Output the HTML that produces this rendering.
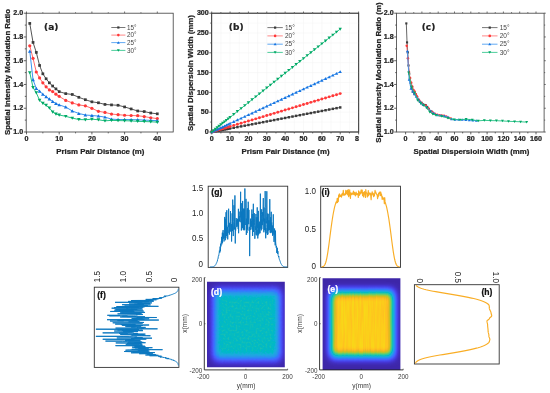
<!DOCTYPE html>
<html lang="en"><head><meta charset="utf-8"><title>Figure</title>
<style>
html,body{margin:0;padding:0;background:#fff;}
body{width:550px;height:393px;overflow:hidden;font-family:"Liberation Sans", Arial, Helvetica, sans-serif;}
svg{display:block;font-family:"Liberation Sans", Arial, Helvetica, sans-serif;}
</style></head><body>
<svg width="550" height="393" viewBox="0 0 550 393">
<rect width="550" height="393" fill="#fff"/>
<rect x="26.20" y="13.20" width="147.00" height="118.80" fill="#fff" stroke="#3c3c3c" stroke-width="0.8"/>
<line x1="26.50" y1="132.0" x2="26.50" y2="134.4" stroke="#3c3c3c" stroke-width="0.8"/>
<line x1="26.50" y1="13.2" x2="26.50" y2="11.5" stroke="#3c3c3c" stroke-width="0.7"/>
<text x="26.50" y="140.90" font-size="7.15" text-anchor="middle" fill="#222" font-weight="bold" stroke="#222" stroke-width="0.22">0</text>
<line x1="59.20" y1="132.0" x2="59.20" y2="134.4" stroke="#3c3c3c" stroke-width="0.8"/>
<line x1="59.20" y1="13.2" x2="59.20" y2="11.5" stroke="#3c3c3c" stroke-width="0.7"/>
<text x="59.20" y="140.90" font-size="7.15" text-anchor="middle" fill="#222" font-weight="bold" stroke="#222" stroke-width="0.22">10</text>
<line x1="91.90" y1="132.0" x2="91.90" y2="134.4" stroke="#3c3c3c" stroke-width="0.8"/>
<line x1="91.90" y1="13.2" x2="91.90" y2="11.5" stroke="#3c3c3c" stroke-width="0.7"/>
<text x="91.90" y="140.90" font-size="7.15" text-anchor="middle" fill="#222" font-weight="bold" stroke="#222" stroke-width="0.22">20</text>
<line x1="124.60" y1="132.0" x2="124.60" y2="134.4" stroke="#3c3c3c" stroke-width="0.8"/>
<line x1="124.60" y1="13.2" x2="124.60" y2="11.5" stroke="#3c3c3c" stroke-width="0.7"/>
<text x="124.60" y="140.90" font-size="7.15" text-anchor="middle" fill="#222" font-weight="bold" stroke="#222" stroke-width="0.22">30</text>
<line x1="157.30" y1="132.0" x2="157.30" y2="134.4" stroke="#3c3c3c" stroke-width="0.8"/>
<line x1="157.30" y1="13.2" x2="157.30" y2="11.5" stroke="#3c3c3c" stroke-width="0.7"/>
<text x="157.30" y="140.90" font-size="7.15" text-anchor="middle" fill="#222" font-weight="bold" stroke="#222" stroke-width="0.22">40</text>
<line x1="42.85" y1="132.0" x2="42.85" y2="133.4" stroke="#3c3c3c" stroke-width="0.7"/>
<line x1="42.85" y1="13.2" x2="42.85" y2="12.1" stroke="#3c3c3c" stroke-width="0.6"/>
<line x1="75.55" y1="132.0" x2="75.55" y2="133.4" stroke="#3c3c3c" stroke-width="0.7"/>
<line x1="75.55" y1="13.2" x2="75.55" y2="12.1" stroke="#3c3c3c" stroke-width="0.6"/>
<line x1="108.25" y1="132.0" x2="108.25" y2="133.4" stroke="#3c3c3c" stroke-width="0.7"/>
<line x1="108.25" y1="13.2" x2="108.25" y2="12.1" stroke="#3c3c3c" stroke-width="0.6"/>
<line x1="140.95" y1="132.0" x2="140.95" y2="133.4" stroke="#3c3c3c" stroke-width="0.7"/>
<line x1="140.95" y1="13.2" x2="140.95" y2="12.1" stroke="#3c3c3c" stroke-width="0.6"/>
<line x1="23.80" y1="132.00" x2="26.2" y2="132.00" stroke="#3c3c3c" stroke-width="0.8"/>
<text x="23.30" y="134.20" font-size="7.15" text-anchor="end" fill="#222" font-weight="bold" stroke="#222" stroke-width="0.22">1.0</text>
<line x1="24.80" y1="120.12" x2="26.2" y2="120.12" stroke="#3c3c3c" stroke-width="0.8"/>
<line x1="23.80" y1="108.24" x2="26.2" y2="108.24" stroke="#3c3c3c" stroke-width="0.8"/>
<text x="23.30" y="110.44" font-size="7.15" text-anchor="end" fill="#222" font-weight="bold" stroke="#222" stroke-width="0.22">1.2</text>
<line x1="24.80" y1="96.36" x2="26.2" y2="96.36" stroke="#3c3c3c" stroke-width="0.8"/>
<line x1="23.80" y1="84.48" x2="26.2" y2="84.48" stroke="#3c3c3c" stroke-width="0.8"/>
<text x="23.30" y="86.68" font-size="7.15" text-anchor="end" fill="#222" font-weight="bold" stroke="#222" stroke-width="0.22">1.4</text>
<line x1="24.80" y1="72.60" x2="26.2" y2="72.60" stroke="#3c3c3c" stroke-width="0.8"/>
<line x1="23.80" y1="60.72" x2="26.2" y2="60.72" stroke="#3c3c3c" stroke-width="0.8"/>
<text x="23.30" y="62.92" font-size="7.15" text-anchor="end" fill="#222" font-weight="bold" stroke="#222" stroke-width="0.22">1.6</text>
<line x1="24.80" y1="48.84" x2="26.2" y2="48.84" stroke="#3c3c3c" stroke-width="0.8"/>
<line x1="23.80" y1="36.96" x2="26.2" y2="36.96" stroke="#3c3c3c" stroke-width="0.8"/>
<text x="23.30" y="39.16" font-size="7.15" text-anchor="end" fill="#222" font-weight="bold" stroke="#222" stroke-width="0.22">1.8</text>
<line x1="24.80" y1="25.08" x2="26.2" y2="25.08" stroke="#3c3c3c" stroke-width="0.8"/>
<line x1="23.80" y1="13.20" x2="26.2" y2="13.20" stroke="#3c3c3c" stroke-width="0.8"/>
<text x="23.30" y="15.40" font-size="7.15" text-anchor="end" fill="#222" font-weight="bold" stroke="#222" stroke-width="0.22">2.0</text>
<polyline points="29.77,23.42 33.04,42.42 36.31,52.40 39.58,65.47 42.85,73.79 46.12,78.78 49.39,82.82 52.66,86.02 55.93,88.88 59.20,91.61 65.74,93.63 72.28,94.46 78.82,97.31 85.36,99.69 91.90,101.82 98.44,102.78 104.98,104.44 111.52,104.91 118.06,105.27 124.60,106.93 131.14,108.95 137.68,110.97 144.22,111.57 150.76,112.99 157.30,113.82" fill="none" stroke="#555555" stroke-width="1.0"/>
<rect x="28.41" y="22.06" width="2.72" height="2.72" fill="#3a3a3a"/>
<rect x="31.68" y="41.06" width="2.72" height="2.72" fill="#3a3a3a"/>
<rect x="34.95" y="51.04" width="2.72" height="2.72" fill="#3a3a3a"/>
<rect x="38.22" y="64.11" width="2.72" height="2.72" fill="#3a3a3a"/>
<rect x="41.49" y="72.43" width="2.72" height="2.72" fill="#3a3a3a"/>
<rect x="44.76" y="77.42" width="2.72" height="2.72" fill="#3a3a3a"/>
<rect x="48.03" y="81.46" width="2.72" height="2.72" fill="#3a3a3a"/>
<rect x="51.30" y="84.66" width="2.72" height="2.72" fill="#3a3a3a"/>
<rect x="54.57" y="87.52" width="2.72" height="2.72" fill="#3a3a3a"/>
<rect x="57.84" y="90.25" width="2.72" height="2.72" fill="#3a3a3a"/>
<rect x="64.38" y="92.27" width="2.72" height="2.72" fill="#3a3a3a"/>
<rect x="70.92" y="93.10" width="2.72" height="2.72" fill="#3a3a3a"/>
<rect x="77.46" y="95.95" width="2.72" height="2.72" fill="#3a3a3a"/>
<rect x="84.00" y="98.33" width="2.72" height="2.72" fill="#3a3a3a"/>
<rect x="90.54" y="100.46" width="2.72" height="2.72" fill="#3a3a3a"/>
<rect x="97.08" y="101.42" width="2.72" height="2.72" fill="#3a3a3a"/>
<rect x="103.62" y="103.08" width="2.72" height="2.72" fill="#3a3a3a"/>
<rect x="110.16" y="103.55" width="2.72" height="2.72" fill="#3a3a3a"/>
<rect x="116.70" y="103.91" width="2.72" height="2.72" fill="#3a3a3a"/>
<rect x="123.24" y="105.57" width="2.72" height="2.72" fill="#3a3a3a"/>
<rect x="129.78" y="107.59" width="2.72" height="2.72" fill="#3a3a3a"/>
<rect x="136.32" y="109.61" width="2.72" height="2.72" fill="#3a3a3a"/>
<rect x="142.86" y="110.21" width="2.72" height="2.72" fill="#3a3a3a"/>
<rect x="149.40" y="111.63" width="2.72" height="2.72" fill="#3a3a3a"/>
<rect x="155.94" y="112.46" width="2.72" height="2.72" fill="#3a3a3a"/>
<polyline points="29.77,45.87 33.04,58.34 36.31,72.01 39.58,77.95 42.85,82.82 46.12,86.86 49.39,89.94 52.66,91.61 55.93,94.22 59.20,96.36 65.74,100.40 72.28,102.89 78.82,104.91 85.36,105.86 91.90,108.36 98.44,111.33 104.98,112.40 111.52,114.06 118.06,114.66 124.60,115.25 131.14,115.49 137.68,115.72 144.22,116.56 150.76,117.74 157.30,118.58" fill="none" stroke="#ff6b6b" stroke-width="1.0"/>
<circle cx="29.77" cy="45.87" r="1.60" fill="#ff3838"/>
<circle cx="33.04" cy="58.34" r="1.60" fill="#ff3838"/>
<circle cx="36.31" cy="72.01" r="1.60" fill="#ff3838"/>
<circle cx="39.58" cy="77.95" r="1.60" fill="#ff3838"/>
<circle cx="42.85" cy="82.82" r="1.60" fill="#ff3838"/>
<circle cx="46.12" cy="86.86" r="1.60" fill="#ff3838"/>
<circle cx="49.39" cy="89.94" r="1.60" fill="#ff3838"/>
<circle cx="52.66" cy="91.61" r="1.60" fill="#ff3838"/>
<circle cx="55.93" cy="94.22" r="1.60" fill="#ff3838"/>
<circle cx="59.20" cy="96.36" r="1.60" fill="#ff3838"/>
<circle cx="65.74" cy="100.40" r="1.60" fill="#ff3838"/>
<circle cx="72.28" cy="102.89" r="1.60" fill="#ff3838"/>
<circle cx="78.82" cy="104.91" r="1.60" fill="#ff3838"/>
<circle cx="85.36" cy="105.86" r="1.60" fill="#ff3838"/>
<circle cx="91.90" cy="108.36" r="1.60" fill="#ff3838"/>
<circle cx="98.44" cy="111.33" r="1.60" fill="#ff3838"/>
<circle cx="104.98" cy="112.40" r="1.60" fill="#ff3838"/>
<circle cx="111.52" cy="114.06" r="1.60" fill="#ff3838"/>
<circle cx="118.06" cy="114.66" r="1.60" fill="#ff3838"/>
<circle cx="124.60" cy="115.25" r="1.60" fill="#ff3838"/>
<circle cx="131.14" cy="115.49" r="1.60" fill="#ff3838"/>
<circle cx="137.68" cy="115.72" r="1.60" fill="#ff3838"/>
<circle cx="144.22" cy="116.56" r="1.60" fill="#ff3838"/>
<circle cx="150.76" cy="117.74" r="1.60" fill="#ff3838"/>
<circle cx="157.30" cy="118.58" r="1.60" fill="#ff3838"/>
<polyline points="29.77,51.22 33.04,79.73 36.31,88.52 39.58,91.25 42.85,94.22 46.12,96.72 49.39,99.09 52.66,101.47 55.93,103.49 59.20,104.91 65.74,107.05 72.28,110.97 78.82,113.47 85.36,115.01 91.90,115.49 98.44,116.08 104.98,117.15 111.52,119.17 118.06,119.53 124.60,119.53 131.14,119.64 137.68,119.76 144.22,120.12 150.76,120.36 157.30,120.71" fill="none" stroke="#3a94f0" stroke-width="1.0"/>
<path d="M27.93 52.66L31.61 52.66L29.77 49.46Z" fill="#1673e0"/>
<path d="M31.20 81.17L34.88 81.17L33.04 77.97Z" fill="#1673e0"/>
<path d="M34.47 89.96L38.15 89.96L36.31 86.76Z" fill="#1673e0"/>
<path d="M37.74 92.69L41.42 92.69L39.58 89.49Z" fill="#1673e0"/>
<path d="M41.01 95.66L44.69 95.66L42.85 92.46Z" fill="#1673e0"/>
<path d="M44.28 98.16L47.96 98.16L46.12 94.96Z" fill="#1673e0"/>
<path d="M47.55 100.53L51.23 100.53L49.39 97.33Z" fill="#1673e0"/>
<path d="M50.82 102.91L54.50 102.91L52.66 99.71Z" fill="#1673e0"/>
<path d="M54.09 104.93L57.77 104.93L55.93 101.73Z" fill="#1673e0"/>
<path d="M57.36 106.35L61.04 106.35L59.20 103.15Z" fill="#1673e0"/>
<path d="M63.90 108.49L67.58 108.49L65.74 105.29Z" fill="#1673e0"/>
<path d="M70.44 112.41L74.12 112.41L72.28 109.21Z" fill="#1673e0"/>
<path d="M76.98 114.91L80.66 114.91L78.82 111.71Z" fill="#1673e0"/>
<path d="M83.52 116.45L87.20 116.45L85.36 113.25Z" fill="#1673e0"/>
<path d="M90.06 116.93L93.74 116.93L91.90 113.73Z" fill="#1673e0"/>
<path d="M96.60 117.52L100.28 117.52L98.44 114.32Z" fill="#1673e0"/>
<path d="M103.14 118.59L106.82 118.59L104.98 115.39Z" fill="#1673e0"/>
<path d="M109.68 120.61L113.36 120.61L111.52 117.41Z" fill="#1673e0"/>
<path d="M116.22 120.97L119.90 120.97L118.06 117.77Z" fill="#1673e0"/>
<path d="M122.76 120.97L126.44 120.97L124.60 117.77Z" fill="#1673e0"/>
<path d="M129.30 121.08L132.98 121.08L131.14 117.88Z" fill="#1673e0"/>
<path d="M135.84 121.20L139.52 121.20L137.68 118.00Z" fill="#1673e0"/>
<path d="M142.38 121.56L146.06 121.56L144.22 118.36Z" fill="#1673e0"/>
<path d="M148.92 121.80L152.60 121.80L150.76 118.60Z" fill="#1673e0"/>
<path d="M155.46 122.15L159.14 122.15L157.30 118.95Z" fill="#1673e0"/>
<polyline points="29.77,72.60 33.04,87.45 36.31,92.80 39.58,100.28 42.85,103.25 46.12,105.27 49.39,107.88 52.66,112.04 55.93,114.06 59.20,115.01 65.74,116.32 72.28,118.10 78.82,119.53 85.36,119.76 91.90,119.17 98.44,119.76 104.98,120.83 111.52,120.36 118.06,120.60 124.60,120.71 131.14,120.95 137.68,121.31 144.22,121.55 150.76,121.78 157.30,122.14" fill="none" stroke="#22c284" stroke-width="1.0"/>
<path d="M27.93 71.16L31.61 71.16L29.77 74.36Z" fill="#00a865"/>
<path d="M31.20 86.01L34.88 86.01L33.04 89.21Z" fill="#00a865"/>
<path d="M34.47 91.36L38.15 91.36L36.31 94.56Z" fill="#00a865"/>
<path d="M37.74 98.84L41.42 98.84L39.58 102.04Z" fill="#00a865"/>
<path d="M41.01 101.81L44.69 101.81L42.85 105.01Z" fill="#00a865"/>
<path d="M44.28 103.83L47.96 103.83L46.12 107.03Z" fill="#00a865"/>
<path d="M47.55 106.44L51.23 106.44L49.39 109.64Z" fill="#00a865"/>
<path d="M50.82 110.60L54.50 110.60L52.66 113.80Z" fill="#00a865"/>
<path d="M54.09 112.62L57.77 112.62L55.93 115.82Z" fill="#00a865"/>
<path d="M57.36 113.57L61.04 113.57L59.20 116.77Z" fill="#00a865"/>
<path d="M63.90 114.88L67.58 114.88L65.74 118.08Z" fill="#00a865"/>
<path d="M70.44 116.66L74.12 116.66L72.28 119.86Z" fill="#00a865"/>
<path d="M76.98 118.09L80.66 118.09L78.82 121.29Z" fill="#00a865"/>
<path d="M83.52 118.32L87.20 118.32L85.36 121.52Z" fill="#00a865"/>
<path d="M90.06 117.73L93.74 117.73L91.90 120.93Z" fill="#00a865"/>
<path d="M96.60 118.32L100.28 118.32L98.44 121.52Z" fill="#00a865"/>
<path d="M103.14 119.39L106.82 119.39L104.98 122.59Z" fill="#00a865"/>
<path d="M109.68 118.92L113.36 118.92L111.52 122.12Z" fill="#00a865"/>
<path d="M116.22 119.16L119.90 119.16L118.06 122.36Z" fill="#00a865"/>
<path d="M122.76 119.27L126.44 119.27L124.60 122.47Z" fill="#00a865"/>
<path d="M129.30 119.51L132.98 119.51L131.14 122.71Z" fill="#00a865"/>
<path d="M135.84 119.87L139.52 119.87L137.68 123.07Z" fill="#00a865"/>
<path d="M142.38 120.11L146.06 120.11L144.22 123.31Z" fill="#00a865"/>
<path d="M148.92 120.34L152.60 120.34L150.76 123.54Z" fill="#00a865"/>
<path d="M155.46 120.70L159.14 120.70L157.30 123.90Z" fill="#00a865"/>
<text x="51.20" y="29.90" font-size="9.0" text-anchor="middle" fill="#222" font-weight="bold" stroke="#222" stroke-width="0.22" letter-spacing="0.05" font-family="DejaVu Sans, Liberation Sans, sans-serif">(a)</text>
<line x1="111.3" y1="27.5" x2="125.4" y2="27.5" stroke="#555555" stroke-width="0.8"/>
<rect x="117.24" y="26.39" width="2.21" height="2.21" fill="#3a3a3a"/>
<text x="126.90" y="29.65" font-size="6.3" text-anchor="start" fill="#444">15°</text>
<line x1="111.3" y1="35.1" x2="125.4" y2="35.1" stroke="#ff6b6b" stroke-width="0.8"/>
<circle cx="118.35" cy="35.10" r="1.30" fill="#ff3838"/>
<text x="126.90" y="37.25" font-size="6.3" text-anchor="start" fill="#444">20°</text>
<line x1="111.3" y1="42.6" x2="125.4" y2="42.6" stroke="#3a94f0" stroke-width="0.8"/>
<path d="M116.85 43.77L119.84 43.77L118.35 41.17Z" fill="#1673e0"/>
<text x="126.90" y="44.75" font-size="6.3" text-anchor="start" fill="#444">25°</text>
<line x1="111.3" y1="50.4" x2="125.4" y2="50.4" stroke="#22c284" stroke-width="0.8"/>
<path d="M116.85 49.23L119.84 49.23L118.35 51.83Z" fill="#00a865"/>
<text x="126.90" y="52.55" font-size="6.3" text-anchor="start" fill="#444">30°</text>
<text x="100.30" y="153.90" font-size="7.85" text-anchor="middle" fill="#222" font-weight="bold" stroke="#222" stroke-width="0.22">Prism Pair Distance (m)</text>
<text x="10.30" y="72.00" font-size="7.85" text-anchor="middle" fill="#222" font-weight="bold" stroke="#222" stroke-width="0.22" transform="rotate(-90 10.30 72.00)">Spatial Intensity Modulation Ratio</text>
<rect x="211.70" y="13.20" width="147.00" height="118.80" fill="#fff" stroke="#3c3c3c" stroke-width="0.8"/>
<line x1="220.88" y1="13.2" x2="220.88" y2="132.0" stroke="#f3f3f3" stroke-width="0.5"/>
<line x1="230.06" y1="13.2" x2="230.06" y2="132.0" stroke="#f3f3f3" stroke-width="0.5"/>
<line x1="239.24" y1="13.2" x2="239.24" y2="132.0" stroke="#f3f3f3" stroke-width="0.5"/>
<line x1="248.42" y1="13.2" x2="248.42" y2="132.0" stroke="#f3f3f3" stroke-width="0.5"/>
<line x1="257.60" y1="13.2" x2="257.60" y2="132.0" stroke="#f3f3f3" stroke-width="0.5"/>
<line x1="266.78" y1="13.2" x2="266.78" y2="132.0" stroke="#f3f3f3" stroke-width="0.5"/>
<line x1="275.96" y1="13.2" x2="275.96" y2="132.0" stroke="#f3f3f3" stroke-width="0.5"/>
<line x1="285.14" y1="13.2" x2="285.14" y2="132.0" stroke="#f3f3f3" stroke-width="0.5"/>
<line x1="294.32" y1="13.2" x2="294.32" y2="132.0" stroke="#f3f3f3" stroke-width="0.5"/>
<line x1="303.50" y1="13.2" x2="303.50" y2="132.0" stroke="#f3f3f3" stroke-width="0.5"/>
<line x1="312.68" y1="13.2" x2="312.68" y2="132.0" stroke="#f3f3f3" stroke-width="0.5"/>
<line x1="321.86" y1="13.2" x2="321.86" y2="132.0" stroke="#f3f3f3" stroke-width="0.5"/>
<line x1="331.04" y1="13.2" x2="331.04" y2="132.0" stroke="#f3f3f3" stroke-width="0.5"/>
<line x1="340.22" y1="13.2" x2="340.22" y2="132.0" stroke="#f3f3f3" stroke-width="0.5"/>
<line x1="349.40" y1="13.2" x2="349.40" y2="132.0" stroke="#f3f3f3" stroke-width="0.5"/>
<line x1="211.7" y1="122.10" x2="358.7" y2="122.10" stroke="#f3f3f3" stroke-width="0.5"/>
<line x1="211.7" y1="112.20" x2="358.7" y2="112.20" stroke="#f3f3f3" stroke-width="0.5"/>
<line x1="211.7" y1="102.30" x2="358.7" y2="102.30" stroke="#f3f3f3" stroke-width="0.5"/>
<line x1="211.7" y1="92.40" x2="358.7" y2="92.40" stroke="#f3f3f3" stroke-width="0.5"/>
<line x1="211.7" y1="82.50" x2="358.7" y2="82.50" stroke="#f3f3f3" stroke-width="0.5"/>
<line x1="211.7" y1="72.60" x2="358.7" y2="72.60" stroke="#f3f3f3" stroke-width="0.5"/>
<line x1="211.7" y1="62.70" x2="358.7" y2="62.70" stroke="#f3f3f3" stroke-width="0.5"/>
<line x1="211.7" y1="52.80" x2="358.7" y2="52.80" stroke="#f3f3f3" stroke-width="0.5"/>
<line x1="211.7" y1="42.90" x2="358.7" y2="42.90" stroke="#f3f3f3" stroke-width="0.5"/>
<line x1="211.7" y1="33.00" x2="358.7" y2="33.00" stroke="#f3f3f3" stroke-width="0.5"/>
<line x1="211.7" y1="23.10" x2="358.7" y2="23.10" stroke="#f3f3f3" stroke-width="0.5"/>
<rect x="211.70" y="13.20" width="147.00" height="118.80" fill="none" stroke="#3c3c3c" stroke-width="0.8"/>
<line x1="211.70" y1="132.0" x2="211.70" y2="134.4" stroke="#3c3c3c" stroke-width="0.8"/>
<line x1="211.70" y1="13.2" x2="211.70" y2="11.5" stroke="#3c3c3c" stroke-width="0.7"/>
<text x="211.70" y="140.90" font-size="7.15" text-anchor="middle" fill="#222" font-weight="bold" stroke="#222" stroke-width="0.22">0</text>
<line x1="220.88" y1="132.0" x2="220.88" y2="133.4" stroke="#3c3c3c" stroke-width="0.8"/>
<line x1="220.88" y1="13.2" x2="220.88" y2="12.1" stroke="#3c3c3c" stroke-width="0.7"/>
<line x1="230.06" y1="132.0" x2="230.06" y2="134.4" stroke="#3c3c3c" stroke-width="0.8"/>
<line x1="230.06" y1="13.2" x2="230.06" y2="11.5" stroke="#3c3c3c" stroke-width="0.7"/>
<text x="230.06" y="140.90" font-size="7.15" text-anchor="middle" fill="#222" font-weight="bold" stroke="#222" stroke-width="0.22">10</text>
<line x1="239.24" y1="132.0" x2="239.24" y2="133.4" stroke="#3c3c3c" stroke-width="0.8"/>
<line x1="239.24" y1="13.2" x2="239.24" y2="12.1" stroke="#3c3c3c" stroke-width="0.7"/>
<line x1="248.42" y1="132.0" x2="248.42" y2="134.4" stroke="#3c3c3c" stroke-width="0.8"/>
<line x1="248.42" y1="13.2" x2="248.42" y2="11.5" stroke="#3c3c3c" stroke-width="0.7"/>
<text x="248.42" y="140.90" font-size="7.15" text-anchor="middle" fill="#222" font-weight="bold" stroke="#222" stroke-width="0.22">20</text>
<line x1="257.60" y1="132.0" x2="257.60" y2="133.4" stroke="#3c3c3c" stroke-width="0.8"/>
<line x1="257.60" y1="13.2" x2="257.60" y2="12.1" stroke="#3c3c3c" stroke-width="0.7"/>
<line x1="266.78" y1="132.0" x2="266.78" y2="134.4" stroke="#3c3c3c" stroke-width="0.8"/>
<line x1="266.78" y1="13.2" x2="266.78" y2="11.5" stroke="#3c3c3c" stroke-width="0.7"/>
<text x="266.78" y="140.90" font-size="7.15" text-anchor="middle" fill="#222" font-weight="bold" stroke="#222" stroke-width="0.22">30</text>
<line x1="275.96" y1="132.0" x2="275.96" y2="133.4" stroke="#3c3c3c" stroke-width="0.8"/>
<line x1="275.96" y1="13.2" x2="275.96" y2="12.1" stroke="#3c3c3c" stroke-width="0.7"/>
<line x1="285.14" y1="132.0" x2="285.14" y2="134.4" stroke="#3c3c3c" stroke-width="0.8"/>
<line x1="285.14" y1="13.2" x2="285.14" y2="11.5" stroke="#3c3c3c" stroke-width="0.7"/>
<text x="285.14" y="140.90" font-size="7.15" text-anchor="middle" fill="#222" font-weight="bold" stroke="#222" stroke-width="0.22">40</text>
<line x1="294.32" y1="132.0" x2="294.32" y2="133.4" stroke="#3c3c3c" stroke-width="0.8"/>
<line x1="294.32" y1="13.2" x2="294.32" y2="12.1" stroke="#3c3c3c" stroke-width="0.7"/>
<line x1="303.50" y1="132.0" x2="303.50" y2="134.4" stroke="#3c3c3c" stroke-width="0.8"/>
<line x1="303.50" y1="13.2" x2="303.50" y2="11.5" stroke="#3c3c3c" stroke-width="0.7"/>
<text x="303.50" y="140.90" font-size="7.15" text-anchor="middle" fill="#222" font-weight="bold" stroke="#222" stroke-width="0.22">50</text>
<line x1="312.68" y1="132.0" x2="312.68" y2="133.4" stroke="#3c3c3c" stroke-width="0.8"/>
<line x1="312.68" y1="13.2" x2="312.68" y2="12.1" stroke="#3c3c3c" stroke-width="0.7"/>
<line x1="321.86" y1="132.0" x2="321.86" y2="134.4" stroke="#3c3c3c" stroke-width="0.8"/>
<line x1="321.86" y1="13.2" x2="321.86" y2="11.5" stroke="#3c3c3c" stroke-width="0.7"/>
<text x="321.86" y="140.90" font-size="7.15" text-anchor="middle" fill="#222" font-weight="bold" stroke="#222" stroke-width="0.22">60</text>
<line x1="331.04" y1="132.0" x2="331.04" y2="133.4" stroke="#3c3c3c" stroke-width="0.8"/>
<line x1="331.04" y1="13.2" x2="331.04" y2="12.1" stroke="#3c3c3c" stroke-width="0.7"/>
<line x1="340.22" y1="132.0" x2="340.22" y2="134.4" stroke="#3c3c3c" stroke-width="0.8"/>
<line x1="340.22" y1="13.2" x2="340.22" y2="11.5" stroke="#3c3c3c" stroke-width="0.7"/>
<text x="340.22" y="140.90" font-size="7.15" text-anchor="middle" fill="#222" font-weight="bold" stroke="#222" stroke-width="0.22">70</text>
<line x1="349.40" y1="132.0" x2="349.40" y2="133.4" stroke="#3c3c3c" stroke-width="0.8"/>
<line x1="349.40" y1="13.2" x2="349.40" y2="12.1" stroke="#3c3c3c" stroke-width="0.7"/>
<line x1="358.58" y1="132.0" x2="358.58" y2="134.4" stroke="#3c3c3c" stroke-width="0.8"/>
<line x1="358.58" y1="13.2" x2="358.58" y2="11.5" stroke="#3c3c3c" stroke-width="0.7"/>
<text x="356.98" y="140.90" font-size="7.15" text-anchor="middle" fill="#222" font-weight="bold" stroke="#222" stroke-width="0.22">8</text>
<line x1="209.30" y1="132.00" x2="211.7" y2="132.00" stroke="#3c3c3c" stroke-width="0.8"/>
<text x="208.80" y="134.20" font-size="7.15" text-anchor="end" fill="#222" font-weight="bold" stroke="#222" stroke-width="0.22">0</text>
<line x1="210.30" y1="122.10" x2="211.7" y2="122.10" stroke="#3c3c3c" stroke-width="0.8"/>
<line x1="209.30" y1="112.20" x2="211.7" y2="112.20" stroke="#3c3c3c" stroke-width="0.8"/>
<text x="208.80" y="114.40" font-size="7.15" text-anchor="end" fill="#222" font-weight="bold" stroke="#222" stroke-width="0.22">50</text>
<line x1="210.30" y1="102.30" x2="211.7" y2="102.30" stroke="#3c3c3c" stroke-width="0.8"/>
<line x1="209.30" y1="92.40" x2="211.7" y2="92.40" stroke="#3c3c3c" stroke-width="0.8"/>
<text x="208.80" y="94.60" font-size="7.15" text-anchor="end" fill="#222" font-weight="bold" stroke="#222" stroke-width="0.22">100</text>
<line x1="210.30" y1="82.50" x2="211.7" y2="82.50" stroke="#3c3c3c" stroke-width="0.8"/>
<line x1="209.30" y1="72.60" x2="211.7" y2="72.60" stroke="#3c3c3c" stroke-width="0.8"/>
<text x="208.80" y="74.80" font-size="7.15" text-anchor="end" fill="#222" font-weight="bold" stroke="#222" stroke-width="0.22">150</text>
<line x1="210.30" y1="62.70" x2="211.7" y2="62.70" stroke="#3c3c3c" stroke-width="0.8"/>
<line x1="209.30" y1="52.80" x2="211.7" y2="52.80" stroke="#3c3c3c" stroke-width="0.8"/>
<text x="208.80" y="55.00" font-size="7.15" text-anchor="end" fill="#222" font-weight="bold" stroke="#222" stroke-width="0.22">200</text>
<line x1="210.30" y1="42.90" x2="211.7" y2="42.90" stroke="#3c3c3c" stroke-width="0.8"/>
<line x1="209.30" y1="33.00" x2="211.7" y2="33.00" stroke="#3c3c3c" stroke-width="0.8"/>
<text x="208.80" y="35.20" font-size="7.15" text-anchor="end" fill="#222" font-weight="bold" stroke="#222" stroke-width="0.22">250</text>
<line x1="210.30" y1="23.10" x2="211.7" y2="23.10" stroke="#3c3c3c" stroke-width="0.8"/>
<line x1="209.30" y1="13.20" x2="211.7" y2="13.20" stroke="#3c3c3c" stroke-width="0.8"/>
<text x="208.80" y="15.40" font-size="7.15" text-anchor="end" fill="#222" font-weight="bold" stroke="#222" stroke-width="0.22">300</text>
<polyline points="211.70,132.00 213.54,131.65 215.37,131.30 217.21,130.95 219.04,130.60 220.88,130.25 222.72,129.89 224.55,129.54 226.39,129.19 228.22,128.84 230.06,128.49 233.73,127.79 237.40,127.09 241.08,126.39 244.75,125.68 248.42,124.98 252.09,124.28 255.76,123.58 259.44,122.88 263.11,122.18 266.78,121.47 270.45,120.77 274.12,120.07 277.80,119.37 281.47,118.67 285.14,117.97 288.81,117.26 292.48,116.56 296.16,115.86 299.83,115.16 303.50,114.46 307.17,113.76 310.84,113.05 314.52,112.35 318.19,111.65 321.86,110.95 325.53,110.25 329.20,109.55 332.88,108.84 336.55,108.14 340.22,107.44" fill="none" stroke="#555555" stroke-width="0.9"/>
<rect x="210.47" y="130.77" width="2.46" height="2.46" fill="#3a3a3a"/>
<rect x="212.30" y="130.42" width="2.46" height="2.46" fill="#3a3a3a"/>
<rect x="214.14" y="130.07" width="2.46" height="2.46" fill="#3a3a3a"/>
<rect x="215.98" y="129.71" width="2.46" height="2.46" fill="#3a3a3a"/>
<rect x="217.81" y="129.36" width="2.46" height="2.46" fill="#3a3a3a"/>
<rect x="219.65" y="129.01" width="2.46" height="2.46" fill="#3a3a3a"/>
<rect x="221.48" y="128.66" width="2.46" height="2.46" fill="#3a3a3a"/>
<rect x="223.32" y="128.31" width="2.46" height="2.46" fill="#3a3a3a"/>
<rect x="225.16" y="127.96" width="2.46" height="2.46" fill="#3a3a3a"/>
<rect x="226.99" y="127.61" width="2.46" height="2.46" fill="#3a3a3a"/>
<rect x="228.83" y="127.26" width="2.46" height="2.46" fill="#3a3a3a"/>
<rect x="232.50" y="126.56" width="2.46" height="2.46" fill="#3a3a3a"/>
<rect x="236.17" y="125.86" width="2.46" height="2.46" fill="#3a3a3a"/>
<rect x="239.84" y="125.15" width="2.46" height="2.46" fill="#3a3a3a"/>
<rect x="243.52" y="124.45" width="2.46" height="2.46" fill="#3a3a3a"/>
<rect x="247.19" y="123.75" width="2.46" height="2.46" fill="#3a3a3a"/>
<rect x="250.86" y="123.05" width="2.46" height="2.46" fill="#3a3a3a"/>
<rect x="254.53" y="122.35" width="2.46" height="2.46" fill="#3a3a3a"/>
<rect x="258.20" y="121.65" width="2.46" height="2.46" fill="#3a3a3a"/>
<rect x="261.88" y="120.94" width="2.46" height="2.46" fill="#3a3a3a"/>
<rect x="265.55" y="120.24" width="2.46" height="2.46" fill="#3a3a3a"/>
<rect x="269.22" y="119.54" width="2.46" height="2.46" fill="#3a3a3a"/>
<rect x="272.89" y="118.84" width="2.46" height="2.46" fill="#3a3a3a"/>
<rect x="276.56" y="118.14" width="2.46" height="2.46" fill="#3a3a3a"/>
<rect x="280.24" y="117.43" width="2.46" height="2.46" fill="#3a3a3a"/>
<rect x="283.91" y="116.73" width="2.46" height="2.46" fill="#3a3a3a"/>
<rect x="287.58" y="116.03" width="2.46" height="2.46" fill="#3a3a3a"/>
<rect x="291.25" y="115.33" width="2.46" height="2.46" fill="#3a3a3a"/>
<rect x="294.92" y="114.63" width="2.46" height="2.46" fill="#3a3a3a"/>
<rect x="298.60" y="113.93" width="2.46" height="2.46" fill="#3a3a3a"/>
<rect x="302.27" y="113.22" width="2.46" height="2.46" fill="#3a3a3a"/>
<rect x="305.94" y="112.52" width="2.46" height="2.46" fill="#3a3a3a"/>
<rect x="309.61" y="111.82" width="2.46" height="2.46" fill="#3a3a3a"/>
<rect x="313.28" y="111.12" width="2.46" height="2.46" fill="#3a3a3a"/>
<rect x="316.96" y="110.42" width="2.46" height="2.46" fill="#3a3a3a"/>
<rect x="320.63" y="109.72" width="2.46" height="2.46" fill="#3a3a3a"/>
<rect x="324.30" y="109.01" width="2.46" height="2.46" fill="#3a3a3a"/>
<rect x="327.97" y="108.31" width="2.46" height="2.46" fill="#3a3a3a"/>
<rect x="331.64" y="107.61" width="2.46" height="2.46" fill="#3a3a3a"/>
<rect x="335.32" y="106.91" width="2.46" height="2.46" fill="#3a3a3a"/>
<rect x="338.99" y="106.21" width="2.46" height="2.46" fill="#3a3a3a"/>
<polyline points="211.70,132.00 213.54,131.45 215.37,130.90 217.21,130.35 219.04,129.80 220.88,129.26 222.72,128.71 224.55,128.16 226.39,127.61 228.22,127.06 230.06,126.51 233.73,125.41 237.40,124.32 241.08,123.22 244.75,122.12 248.42,121.02 252.09,119.93 255.76,118.83 259.44,117.73 263.11,116.63 266.78,115.53 270.45,114.44 274.12,113.34 277.80,112.24 281.47,111.14 285.14,110.05 288.81,108.95 292.48,107.85 296.16,106.75 299.83,105.65 303.50,104.56 307.17,103.46 310.84,102.36 314.52,101.26 318.19,100.17 321.86,99.07 325.53,97.97 329.20,96.87 332.88,95.78 336.55,94.68 340.22,93.58" fill="none" stroke="#ff6b6b" stroke-width="0.9"/>
<circle cx="211.70" cy="132.00" r="1.45" fill="#ff3838"/>
<circle cx="213.54" cy="131.45" r="1.45" fill="#ff3838"/>
<circle cx="215.37" cy="130.90" r="1.45" fill="#ff3838"/>
<circle cx="217.21" cy="130.35" r="1.45" fill="#ff3838"/>
<circle cx="219.04" cy="129.80" r="1.45" fill="#ff3838"/>
<circle cx="220.88" cy="129.26" r="1.45" fill="#ff3838"/>
<circle cx="222.72" cy="128.71" r="1.45" fill="#ff3838"/>
<circle cx="224.55" cy="128.16" r="1.45" fill="#ff3838"/>
<circle cx="226.39" cy="127.61" r="1.45" fill="#ff3838"/>
<circle cx="228.22" cy="127.06" r="1.45" fill="#ff3838"/>
<circle cx="230.06" cy="126.51" r="1.45" fill="#ff3838"/>
<circle cx="233.73" cy="125.41" r="1.45" fill="#ff3838"/>
<circle cx="237.40" cy="124.32" r="1.45" fill="#ff3838"/>
<circle cx="241.08" cy="123.22" r="1.45" fill="#ff3838"/>
<circle cx="244.75" cy="122.12" r="1.45" fill="#ff3838"/>
<circle cx="248.42" cy="121.02" r="1.45" fill="#ff3838"/>
<circle cx="252.09" cy="119.93" r="1.45" fill="#ff3838"/>
<circle cx="255.76" cy="118.83" r="1.45" fill="#ff3838"/>
<circle cx="259.44" cy="117.73" r="1.45" fill="#ff3838"/>
<circle cx="263.11" cy="116.63" r="1.45" fill="#ff3838"/>
<circle cx="266.78" cy="115.53" r="1.45" fill="#ff3838"/>
<circle cx="270.45" cy="114.44" r="1.45" fill="#ff3838"/>
<circle cx="274.12" cy="113.34" r="1.45" fill="#ff3838"/>
<circle cx="277.80" cy="112.24" r="1.45" fill="#ff3838"/>
<circle cx="281.47" cy="111.14" r="1.45" fill="#ff3838"/>
<circle cx="285.14" cy="110.05" r="1.45" fill="#ff3838"/>
<circle cx="288.81" cy="108.95" r="1.45" fill="#ff3838"/>
<circle cx="292.48" cy="107.85" r="1.45" fill="#ff3838"/>
<circle cx="296.16" cy="106.75" r="1.45" fill="#ff3838"/>
<circle cx="299.83" cy="105.65" r="1.45" fill="#ff3838"/>
<circle cx="303.50" cy="104.56" r="1.45" fill="#ff3838"/>
<circle cx="307.17" cy="103.46" r="1.45" fill="#ff3838"/>
<circle cx="310.84" cy="102.36" r="1.45" fill="#ff3838"/>
<circle cx="314.52" cy="101.26" r="1.45" fill="#ff3838"/>
<circle cx="318.19" cy="100.17" r="1.45" fill="#ff3838"/>
<circle cx="321.86" cy="99.07" r="1.45" fill="#ff3838"/>
<circle cx="325.53" cy="97.97" r="1.45" fill="#ff3838"/>
<circle cx="329.20" cy="96.87" r="1.45" fill="#ff3838"/>
<circle cx="332.88" cy="95.78" r="1.45" fill="#ff3838"/>
<circle cx="336.55" cy="94.68" r="1.45" fill="#ff3838"/>
<circle cx="340.22" cy="93.58" r="1.45" fill="#ff3838"/>
<polyline points="211.70,132.00 213.54,131.14 215.37,130.28 217.21,129.42 219.04,128.56 220.88,127.70 222.72,126.84 224.55,125.98 226.39,125.12 228.22,124.26 230.06,123.40 233.73,121.68 237.40,119.96 241.08,118.24 244.75,116.53 248.42,114.81 252.09,113.09 255.76,111.37 259.44,109.65 263.11,107.93 266.78,106.21 270.45,104.49 274.12,102.77 277.80,101.05 281.47,99.33 285.14,97.61 288.81,95.89 292.48,94.17 296.16,92.45 299.83,90.73 303.50,89.01 307.17,87.29 310.84,85.58 314.52,83.86 318.19,82.14 321.86,80.42 325.53,78.70 329.20,76.98 332.88,75.26 336.55,73.54 340.22,71.82" fill="none" stroke="#3a94f0" stroke-width="0.9"/>
<path d="M210.03 133.31L213.37 133.31L211.70 130.41Z" fill="#1673e0"/>
<path d="M211.87 132.45L215.20 132.45L213.54 129.55Z" fill="#1673e0"/>
<path d="M213.70 131.59L217.04 131.59L215.37 128.69Z" fill="#1673e0"/>
<path d="M215.54 130.73L218.88 130.73L217.21 127.83Z" fill="#1673e0"/>
<path d="M217.38 129.87L220.71 129.87L219.04 126.97Z" fill="#1673e0"/>
<path d="M219.21 129.01L222.55 129.01L220.88 126.11Z" fill="#1673e0"/>
<path d="M221.05 128.15L224.38 128.15L222.72 125.25Z" fill="#1673e0"/>
<path d="M222.88 127.29L226.22 127.29L224.55 124.39Z" fill="#1673e0"/>
<path d="M224.72 126.43L228.06 126.43L226.39 123.53Z" fill="#1673e0"/>
<path d="M226.56 125.57L229.89 125.57L228.22 122.67Z" fill="#1673e0"/>
<path d="M228.39 124.71L231.73 124.71L230.06 121.81Z" fill="#1673e0"/>
<path d="M232.06 122.99L235.40 122.99L233.73 120.09Z" fill="#1673e0"/>
<path d="M235.74 121.27L239.07 121.27L237.40 118.37Z" fill="#1673e0"/>
<path d="M239.41 119.55L242.74 119.55L241.08 116.65Z" fill="#1673e0"/>
<path d="M243.08 117.83L246.42 117.83L244.75 114.93Z" fill="#1673e0"/>
<path d="M246.75 116.11L250.09 116.11L248.42 113.21Z" fill="#1673e0"/>
<path d="M250.42 114.39L253.76 114.39L252.09 111.49Z" fill="#1673e0"/>
<path d="M254.10 112.67L257.43 112.67L255.76 109.77Z" fill="#1673e0"/>
<path d="M257.77 110.95L261.10 110.95L259.44 108.05Z" fill="#1673e0"/>
<path d="M261.44 109.23L264.78 109.23L263.11 106.33Z" fill="#1673e0"/>
<path d="M265.11 107.51L268.45 107.51L266.78 104.61Z" fill="#1673e0"/>
<path d="M268.78 105.79L272.12 105.79L270.45 102.89Z" fill="#1673e0"/>
<path d="M272.46 104.07L275.79 104.07L274.12 101.17Z" fill="#1673e0"/>
<path d="M276.13 102.36L279.46 102.36L277.80 99.46Z" fill="#1673e0"/>
<path d="M279.80 100.64L283.14 100.64L281.47 97.74Z" fill="#1673e0"/>
<path d="M283.47 98.92L286.81 98.92L285.14 96.02Z" fill="#1673e0"/>
<path d="M287.14 97.20L290.48 97.20L288.81 94.30Z" fill="#1673e0"/>
<path d="M290.82 95.48L294.15 95.48L292.48 92.58Z" fill="#1673e0"/>
<path d="M294.49 93.76L297.82 93.76L296.16 90.86Z" fill="#1673e0"/>
<path d="M298.16 92.04L301.50 92.04L299.83 89.14Z" fill="#1673e0"/>
<path d="M301.83 90.32L305.17 90.32L303.50 87.42Z" fill="#1673e0"/>
<path d="M305.50 88.60L308.84 88.60L307.17 85.70Z" fill="#1673e0"/>
<path d="M309.18 86.88L312.51 86.88L310.84 83.98Z" fill="#1673e0"/>
<path d="M312.85 85.16L316.18 85.16L314.52 82.26Z" fill="#1673e0"/>
<path d="M316.52 83.44L319.86 83.44L318.19 80.54Z" fill="#1673e0"/>
<path d="M320.19 81.72L323.53 81.72L321.86 78.82Z" fill="#1673e0"/>
<path d="M323.86 80.00L327.20 80.00L325.53 77.10Z" fill="#1673e0"/>
<path d="M327.54 78.28L330.87 78.28L329.20 75.38Z" fill="#1673e0"/>
<path d="M331.21 76.56L334.54 76.56L332.88 73.66Z" fill="#1673e0"/>
<path d="M334.88 74.84L338.22 74.84L336.55 71.94Z" fill="#1673e0"/>
<path d="M338.55 73.12L341.89 73.12L340.22 70.22Z" fill="#1673e0"/>
<polyline points="211.70,132.00 213.54,130.53 215.37,129.06 217.21,127.59 219.04,126.12 220.88,124.65 222.72,123.18 224.55,121.70 226.39,120.23 228.22,118.76 230.06,117.29 233.73,114.35 237.40,111.41 241.08,108.47 244.75,105.53 248.42,102.59 252.09,99.64 255.76,96.70 259.44,93.76 263.11,90.82 266.78,87.88 270.45,84.94 274.12,81.99 277.80,79.05 281.47,76.11 285.14,73.17 288.81,70.23 292.48,67.29 296.16,64.35 299.83,61.40 303.50,58.46 307.17,55.52 310.84,52.58 314.52,49.64 318.19,46.70 321.86,43.76 325.53,40.81 329.20,37.87 332.88,34.93 336.55,31.99 340.22,29.05" fill="none" stroke="#22c284" stroke-width="0.9"/>
<path d="M210.03 130.69L213.37 130.69L211.70 133.59Z" fill="#00a865"/>
<path d="M211.87 129.22L215.20 129.22L213.54 132.12Z" fill="#00a865"/>
<path d="M213.70 127.75L217.04 127.75L215.37 130.65Z" fill="#00a865"/>
<path d="M215.54 126.28L218.88 126.28L217.21 129.18Z" fill="#00a865"/>
<path d="M217.38 124.81L220.71 124.81L219.04 127.71Z" fill="#00a865"/>
<path d="M219.21 123.34L222.55 123.34L220.88 126.24Z" fill="#00a865"/>
<path d="M221.05 121.87L224.38 121.87L222.72 124.77Z" fill="#00a865"/>
<path d="M222.88 120.40L226.22 120.40L224.55 123.30Z" fill="#00a865"/>
<path d="M224.72 118.93L228.06 118.93L226.39 121.83Z" fill="#00a865"/>
<path d="M226.56 117.46L229.89 117.46L228.22 120.36Z" fill="#00a865"/>
<path d="M228.39 115.99L231.73 115.99L230.06 118.89Z" fill="#00a865"/>
<path d="M232.06 113.05L235.40 113.05L233.73 115.95Z" fill="#00a865"/>
<path d="M235.74 110.10L239.07 110.10L237.40 113.00Z" fill="#00a865"/>
<path d="M239.41 107.16L242.74 107.16L241.08 110.06Z" fill="#00a865"/>
<path d="M243.08 104.22L246.42 104.22L244.75 107.12Z" fill="#00a865"/>
<path d="M246.75 101.28L250.09 101.28L248.42 104.18Z" fill="#00a865"/>
<path d="M250.42 98.34L253.76 98.34L252.09 101.24Z" fill="#00a865"/>
<path d="M254.10 95.40L257.43 95.40L255.76 98.30Z" fill="#00a865"/>
<path d="M257.77 92.46L261.10 92.46L259.44 95.36Z" fill="#00a865"/>
<path d="M261.44 89.51L264.78 89.51L263.11 92.41Z" fill="#00a865"/>
<path d="M265.11 86.57L268.45 86.57L266.78 89.47Z" fill="#00a865"/>
<path d="M268.78 83.63L272.12 83.63L270.45 86.53Z" fill="#00a865"/>
<path d="M272.46 80.69L275.79 80.69L274.12 83.59Z" fill="#00a865"/>
<path d="M276.13 77.75L279.46 77.75L277.80 80.65Z" fill="#00a865"/>
<path d="M279.80 74.81L283.14 74.81L281.47 77.71Z" fill="#00a865"/>
<path d="M283.47 71.87L286.81 71.87L285.14 74.77Z" fill="#00a865"/>
<path d="M287.14 68.92L290.48 68.92L288.81 71.82Z" fill="#00a865"/>
<path d="M290.82 65.98L294.15 65.98L292.48 68.88Z" fill="#00a865"/>
<path d="M294.49 63.04L297.82 63.04L296.16 65.94Z" fill="#00a865"/>
<path d="M298.16 60.10L301.50 60.10L299.83 63.00Z" fill="#00a865"/>
<path d="M301.83 57.16L305.17 57.16L303.50 60.06Z" fill="#00a865"/>
<path d="M305.50 54.22L308.84 54.22L307.17 57.12Z" fill="#00a865"/>
<path d="M309.18 51.27L312.51 51.27L310.84 54.17Z" fill="#00a865"/>
<path d="M312.85 48.33L316.18 48.33L314.52 51.23Z" fill="#00a865"/>
<path d="M316.52 45.39L319.86 45.39L318.19 48.29Z" fill="#00a865"/>
<path d="M320.19 42.45L323.53 42.45L321.86 45.35Z" fill="#00a865"/>
<path d="M323.86 39.51L327.20 39.51L325.53 42.41Z" fill="#00a865"/>
<path d="M327.54 36.57L330.87 36.57L329.20 39.47Z" fill="#00a865"/>
<path d="M331.21 33.63L334.54 33.63L332.88 36.53Z" fill="#00a865"/>
<path d="M334.88 30.68L338.22 30.68L336.55 33.58Z" fill="#00a865"/>
<path d="M338.55 27.74L341.89 27.74L340.22 30.64Z" fill="#00a865"/>
<text x="236.20" y="29.90" font-size="9.0" text-anchor="middle" fill="#222" font-weight="bold" stroke="#222" stroke-width="0.22" letter-spacing="0.05" font-family="DejaVu Sans, Liberation Sans, sans-serif">(b)</text>
<line x1="267.4" y1="27.6" x2="282.8" y2="27.6" stroke="#555555" stroke-width="0.8"/>
<rect x="274.00" y="26.50" width="2.21" height="2.21" fill="#3a3a3a"/>
<text x="285.00" y="29.75" font-size="6.5" text-anchor="start" fill="#444">15°</text>
<line x1="267.4" y1="35.9" x2="282.8" y2="35.9" stroke="#ff6b6b" stroke-width="0.8"/>
<circle cx="275.10" cy="35.90" r="1.30" fill="#ff3838"/>
<text x="285.00" y="38.05" font-size="6.5" text-anchor="start" fill="#444">20°</text>
<line x1="267.4" y1="44.2" x2="282.8" y2="44.2" stroke="#3a94f0" stroke-width="0.8"/>
<path d="M273.61 45.37L276.60 45.37L275.10 42.77Z" fill="#1673e0"/>
<text x="285.00" y="46.35" font-size="6.5" text-anchor="start" fill="#444">25°</text>
<line x1="267.4" y1="52.4" x2="282.8" y2="52.4" stroke="#22c284" stroke-width="0.8"/>
<path d="M273.61 51.23L276.60 51.23L275.10 53.83Z" fill="#00a865"/>
<text x="285.00" y="54.55" font-size="6.5" text-anchor="start" fill="#444">30°</text>
<text x="285.50" y="153.90" font-size="7.85" text-anchor="middle" fill="#222" font-weight="bold" stroke="#222" stroke-width="0.22">Prism Pair Distance (m)</text>
<text x="192.50" y="73.00" font-size="7.85" text-anchor="middle" fill="#222" font-weight="bold" stroke="#222" stroke-width="0.22" transform="rotate(-90 192.50 73.00)">Spatial Dispersioin Width (mm)</text>
<rect x="396.60" y="13.20" width="147.50" height="118.80" fill="#fff" stroke="#3c3c3c" stroke-width="0.8"/>
<line x1="405.60" y1="132.0" x2="405.60" y2="134.4" stroke="#3c3c3c" stroke-width="0.8"/>
<line x1="405.60" y1="13.2" x2="405.60" y2="11.5" stroke="#3c3c3c" stroke-width="0.7"/>
<text x="405.60" y="140.90" font-size="7.15" text-anchor="middle" fill="#222" font-weight="bold" stroke="#222" stroke-width="0.22">0</text>
<line x1="413.75" y1="132.0" x2="413.75" y2="133.4" stroke="#3c3c3c" stroke-width="0.8"/>
<line x1="413.75" y1="13.2" x2="413.75" y2="12.1" stroke="#3c3c3c" stroke-width="0.7"/>
<line x1="421.90" y1="132.0" x2="421.90" y2="134.4" stroke="#3c3c3c" stroke-width="0.8"/>
<line x1="421.90" y1="13.2" x2="421.90" y2="11.5" stroke="#3c3c3c" stroke-width="0.7"/>
<text x="421.90" y="140.90" font-size="7.15" text-anchor="middle" fill="#222" font-weight="bold" stroke="#222" stroke-width="0.22">20</text>
<line x1="430.05" y1="132.0" x2="430.05" y2="133.4" stroke="#3c3c3c" stroke-width="0.8"/>
<line x1="430.05" y1="13.2" x2="430.05" y2="12.1" stroke="#3c3c3c" stroke-width="0.7"/>
<line x1="438.20" y1="132.0" x2="438.20" y2="134.4" stroke="#3c3c3c" stroke-width="0.8"/>
<line x1="438.20" y1="13.2" x2="438.20" y2="11.5" stroke="#3c3c3c" stroke-width="0.7"/>
<text x="438.20" y="140.90" font-size="7.15" text-anchor="middle" fill="#222" font-weight="bold" stroke="#222" stroke-width="0.22">40</text>
<line x1="446.35" y1="132.0" x2="446.35" y2="133.4" stroke="#3c3c3c" stroke-width="0.8"/>
<line x1="446.35" y1="13.2" x2="446.35" y2="12.1" stroke="#3c3c3c" stroke-width="0.7"/>
<line x1="454.50" y1="132.0" x2="454.50" y2="134.4" stroke="#3c3c3c" stroke-width="0.8"/>
<line x1="454.50" y1="13.2" x2="454.50" y2="11.5" stroke="#3c3c3c" stroke-width="0.7"/>
<text x="454.50" y="140.90" font-size="7.15" text-anchor="middle" fill="#222" font-weight="bold" stroke="#222" stroke-width="0.22">60</text>
<line x1="462.65" y1="132.0" x2="462.65" y2="133.4" stroke="#3c3c3c" stroke-width="0.8"/>
<line x1="462.65" y1="13.2" x2="462.65" y2="12.1" stroke="#3c3c3c" stroke-width="0.7"/>
<line x1="470.80" y1="132.0" x2="470.80" y2="134.4" stroke="#3c3c3c" stroke-width="0.8"/>
<line x1="470.80" y1="13.2" x2="470.80" y2="11.5" stroke="#3c3c3c" stroke-width="0.7"/>
<text x="470.80" y="140.90" font-size="7.15" text-anchor="middle" fill="#222" font-weight="bold" stroke="#222" stroke-width="0.22">80</text>
<line x1="478.95" y1="132.0" x2="478.95" y2="133.4" stroke="#3c3c3c" stroke-width="0.8"/>
<line x1="478.95" y1="13.2" x2="478.95" y2="12.1" stroke="#3c3c3c" stroke-width="0.7"/>
<line x1="487.10" y1="132.0" x2="487.10" y2="134.4" stroke="#3c3c3c" stroke-width="0.8"/>
<line x1="487.10" y1="13.2" x2="487.10" y2="11.5" stroke="#3c3c3c" stroke-width="0.7"/>
<text x="487.10" y="140.90" font-size="7.15" text-anchor="middle" fill="#222" font-weight="bold" stroke="#222" stroke-width="0.22">100</text>
<line x1="495.25" y1="132.0" x2="495.25" y2="133.4" stroke="#3c3c3c" stroke-width="0.8"/>
<line x1="495.25" y1="13.2" x2="495.25" y2="12.1" stroke="#3c3c3c" stroke-width="0.7"/>
<line x1="503.40" y1="132.0" x2="503.40" y2="134.4" stroke="#3c3c3c" stroke-width="0.8"/>
<line x1="503.40" y1="13.2" x2="503.40" y2="11.5" stroke="#3c3c3c" stroke-width="0.7"/>
<text x="503.40" y="140.90" font-size="7.15" text-anchor="middle" fill="#222" font-weight="bold" stroke="#222" stroke-width="0.22">120</text>
<line x1="511.55" y1="132.0" x2="511.55" y2="133.4" stroke="#3c3c3c" stroke-width="0.8"/>
<line x1="511.55" y1="13.2" x2="511.55" y2="12.1" stroke="#3c3c3c" stroke-width="0.7"/>
<line x1="519.70" y1="132.0" x2="519.70" y2="134.4" stroke="#3c3c3c" stroke-width="0.8"/>
<line x1="519.70" y1="13.2" x2="519.70" y2="11.5" stroke="#3c3c3c" stroke-width="0.7"/>
<text x="519.70" y="140.90" font-size="7.15" text-anchor="middle" fill="#222" font-weight="bold" stroke="#222" stroke-width="0.22">140</text>
<line x1="527.85" y1="132.0" x2="527.85" y2="133.4" stroke="#3c3c3c" stroke-width="0.8"/>
<line x1="527.85" y1="13.2" x2="527.85" y2="12.1" stroke="#3c3c3c" stroke-width="0.7"/>
<line x1="536.00" y1="132.0" x2="536.00" y2="134.4" stroke="#3c3c3c" stroke-width="0.8"/>
<line x1="536.00" y1="13.2" x2="536.00" y2="11.5" stroke="#3c3c3c" stroke-width="0.7"/>
<text x="536.00" y="140.90" font-size="7.15" text-anchor="middle" fill="#222" font-weight="bold" stroke="#222" stroke-width="0.22">160</text>
<line x1="394.20" y1="132.00" x2="396.6" y2="132.00" stroke="#3c3c3c" stroke-width="0.8"/>
<line x1="545.80" y1="132.00" x2="544.1" y2="132.00" stroke="#3c3c3c" stroke-width="0.7"/>
<text x="393.70" y="134.20" font-size="7.15" text-anchor="end" fill="#222" font-weight="bold" stroke="#222" stroke-width="0.22">1.0</text>
<line x1="395.20" y1="120.12" x2="396.6" y2="120.12" stroke="#3c3c3c" stroke-width="0.8"/>
<line x1="545.20" y1="120.12" x2="544.1" y2="120.12" stroke="#3c3c3c" stroke-width="0.7"/>
<line x1="394.20" y1="108.24" x2="396.6" y2="108.24" stroke="#3c3c3c" stroke-width="0.8"/>
<line x1="545.80" y1="108.24" x2="544.1" y2="108.24" stroke="#3c3c3c" stroke-width="0.7"/>
<text x="393.70" y="110.44" font-size="7.15" text-anchor="end" fill="#222" font-weight="bold" stroke="#222" stroke-width="0.22">1.2</text>
<line x1="395.20" y1="96.36" x2="396.6" y2="96.36" stroke="#3c3c3c" stroke-width="0.8"/>
<line x1="545.20" y1="96.36" x2="544.1" y2="96.36" stroke="#3c3c3c" stroke-width="0.7"/>
<line x1="394.20" y1="84.48" x2="396.6" y2="84.48" stroke="#3c3c3c" stroke-width="0.8"/>
<line x1="545.80" y1="84.48" x2="544.1" y2="84.48" stroke="#3c3c3c" stroke-width="0.7"/>
<text x="393.70" y="86.68" font-size="7.15" text-anchor="end" fill="#222" font-weight="bold" stroke="#222" stroke-width="0.22">1.4</text>
<line x1="395.20" y1="72.60" x2="396.6" y2="72.60" stroke="#3c3c3c" stroke-width="0.8"/>
<line x1="545.20" y1="72.60" x2="544.1" y2="72.60" stroke="#3c3c3c" stroke-width="0.7"/>
<line x1="394.20" y1="60.72" x2="396.6" y2="60.72" stroke="#3c3c3c" stroke-width="0.8"/>
<line x1="545.80" y1="60.72" x2="544.1" y2="60.72" stroke="#3c3c3c" stroke-width="0.7"/>
<text x="393.70" y="62.92" font-size="7.15" text-anchor="end" fill="#222" font-weight="bold" stroke="#222" stroke-width="0.22">1.6</text>
<line x1="395.20" y1="48.84" x2="396.6" y2="48.84" stroke="#3c3c3c" stroke-width="0.8"/>
<line x1="545.20" y1="48.84" x2="544.1" y2="48.84" stroke="#3c3c3c" stroke-width="0.7"/>
<line x1="394.20" y1="36.96" x2="396.6" y2="36.96" stroke="#3c3c3c" stroke-width="0.8"/>
<line x1="545.80" y1="36.96" x2="544.1" y2="36.96" stroke="#3c3c3c" stroke-width="0.7"/>
<text x="393.70" y="39.16" font-size="7.15" text-anchor="end" fill="#222" font-weight="bold" stroke="#222" stroke-width="0.22">1.8</text>
<line x1="395.20" y1="25.08" x2="396.6" y2="25.08" stroke="#3c3c3c" stroke-width="0.8"/>
<line x1="545.20" y1="25.08" x2="544.1" y2="25.08" stroke="#3c3c3c" stroke-width="0.7"/>
<line x1="394.20" y1="13.20" x2="396.6" y2="13.20" stroke="#3c3c3c" stroke-width="0.8"/>
<line x1="545.80" y1="13.20" x2="544.1" y2="13.20" stroke="#3c3c3c" stroke-width="0.7"/>
<text x="393.70" y="15.40" font-size="7.15" text-anchor="end" fill="#222" font-weight="bold" stroke="#222" stroke-width="0.22">2.0</text>
<polyline points="406.32,23.42 407.04,42.42 407.77,52.40 408.49,65.47 409.21,73.79 409.93,78.78 410.65,82.82 411.38,86.02 412.10,88.88 412.82,91.61 414.27,93.63 415.71,94.46 417.15,97.31 418.60,99.69 420.04,101.82 421.49,102.78 422.93,104.44 424.37,104.91 425.82,105.27 427.26,106.93 428.71,108.95 430.15,110.97 431.60,111.57 433.04,112.99 434.48,113.82" fill="none" stroke="#555555" stroke-width="0.9"/>
<rect x="405.26" y="22.35" width="2.12" height="2.12" fill="#3a3a3a"/>
<rect x="405.98" y="41.36" width="2.12" height="2.12" fill="#3a3a3a"/>
<rect x="406.70" y="51.34" width="2.12" height="2.12" fill="#3a3a3a"/>
<rect x="407.43" y="64.41" width="2.12" height="2.12" fill="#3a3a3a"/>
<rect x="408.15" y="72.73" width="2.12" height="2.12" fill="#3a3a3a"/>
<rect x="408.87" y="77.72" width="2.12" height="2.12" fill="#3a3a3a"/>
<rect x="409.59" y="81.75" width="2.12" height="2.12" fill="#3a3a3a"/>
<rect x="410.31" y="84.96" width="2.12" height="2.12" fill="#3a3a3a"/>
<rect x="411.04" y="87.81" width="2.12" height="2.12" fill="#3a3a3a"/>
<rect x="411.76" y="90.55" width="2.12" height="2.12" fill="#3a3a3a"/>
<rect x="413.20" y="92.57" width="2.12" height="2.12" fill="#3a3a3a"/>
<rect x="414.65" y="93.40" width="2.12" height="2.12" fill="#3a3a3a"/>
<rect x="416.09" y="96.25" width="2.12" height="2.12" fill="#3a3a3a"/>
<rect x="417.54" y="98.62" width="2.12" height="2.12" fill="#3a3a3a"/>
<rect x="418.98" y="100.76" width="2.12" height="2.12" fill="#3a3a3a"/>
<rect x="420.42" y="101.71" width="2.12" height="2.12" fill="#3a3a3a"/>
<rect x="421.87" y="103.38" width="2.12" height="2.12" fill="#3a3a3a"/>
<rect x="423.31" y="103.85" width="2.12" height="2.12" fill="#3a3a3a"/>
<rect x="424.76" y="104.21" width="2.12" height="2.12" fill="#3a3a3a"/>
<rect x="426.20" y="105.87" width="2.12" height="2.12" fill="#3a3a3a"/>
<rect x="427.64" y="107.89" width="2.12" height="2.12" fill="#3a3a3a"/>
<rect x="429.09" y="109.91" width="2.12" height="2.12" fill="#3a3a3a"/>
<rect x="430.53" y="110.50" width="2.12" height="2.12" fill="#3a3a3a"/>
<rect x="431.98" y="111.93" width="2.12" height="2.12" fill="#3a3a3a"/>
<rect x="433.42" y="112.76" width="2.12" height="2.12" fill="#3a3a3a"/>
<polyline points="406.73,45.87 407.86,58.34 408.99,72.01 410.12,77.95 411.25,82.82 412.38,86.86 413.51,89.94 414.64,91.61 415.77,94.22 416.90,96.36 419.16,100.40 421.41,102.89 423.67,104.91 425.93,105.86 428.19,108.36 430.45,111.33 432.71,112.40 434.97,114.06 437.23,114.66 439.49,115.25 441.75,115.49 444.01,115.72 446.27,116.56 448.52,117.74 450.78,118.58" fill="none" stroke="#ff6b6b" stroke-width="0.9"/>
<circle cx="406.73" cy="45.87" r="1.25" fill="#ff3838"/>
<circle cx="407.86" cy="58.34" r="1.25" fill="#ff3838"/>
<circle cx="408.99" cy="72.01" r="1.25" fill="#ff3838"/>
<circle cx="410.12" cy="77.95" r="1.25" fill="#ff3838"/>
<circle cx="411.25" cy="82.82" r="1.25" fill="#ff3838"/>
<circle cx="412.38" cy="86.86" r="1.25" fill="#ff3838"/>
<circle cx="413.51" cy="89.94" r="1.25" fill="#ff3838"/>
<circle cx="414.64" cy="91.61" r="1.25" fill="#ff3838"/>
<circle cx="415.77" cy="94.22" r="1.25" fill="#ff3838"/>
<circle cx="416.90" cy="96.36" r="1.25" fill="#ff3838"/>
<circle cx="419.16" cy="100.40" r="1.25" fill="#ff3838"/>
<circle cx="421.41" cy="102.89" r="1.25" fill="#ff3838"/>
<circle cx="423.67" cy="104.91" r="1.25" fill="#ff3838"/>
<circle cx="425.93" cy="105.86" r="1.25" fill="#ff3838"/>
<circle cx="428.19" cy="108.36" r="1.25" fill="#ff3838"/>
<circle cx="430.45" cy="111.33" r="1.25" fill="#ff3838"/>
<circle cx="432.71" cy="112.40" r="1.25" fill="#ff3838"/>
<circle cx="434.97" cy="114.06" r="1.25" fill="#ff3838"/>
<circle cx="437.23" cy="114.66" r="1.25" fill="#ff3838"/>
<circle cx="439.49" cy="115.25" r="1.25" fill="#ff3838"/>
<circle cx="441.75" cy="115.49" r="1.25" fill="#ff3838"/>
<circle cx="444.01" cy="115.72" r="1.25" fill="#ff3838"/>
<circle cx="446.27" cy="116.56" r="1.25" fill="#ff3838"/>
<circle cx="448.52" cy="117.74" r="1.25" fill="#ff3838"/>
<circle cx="450.78" cy="118.58" r="1.25" fill="#ff3838"/>
<polyline points="407.37,51.22 409.14,79.73 410.91,88.52 412.68,91.25 414.45,94.22 416.22,96.72 417.99,99.09 419.75,101.47 421.52,103.49 423.29,104.91 426.83,107.05 430.37,110.97 433.91,113.47 437.45,115.01 440.99,115.49 444.53,116.08 448.06,117.15 451.60,119.17 455.14,119.53 458.68,119.53 462.22,119.64 465.76,119.76 469.30,120.12 472.84,120.36 476.37,120.71" fill="none" stroke="#3a94f0" stroke-width="0.9"/>
<path d="M405.93 52.34L408.81 52.34L407.37 49.84Z" fill="#1673e0"/>
<path d="M407.70 80.85L410.58 80.85L409.14 78.35Z" fill="#1673e0"/>
<path d="M409.47 89.64L412.35 89.64L410.91 87.14Z" fill="#1673e0"/>
<path d="M411.24 92.38L414.11 92.38L412.68 89.88Z" fill="#1673e0"/>
<path d="M413.01 95.35L415.88 95.35L414.45 92.85Z" fill="#1673e0"/>
<path d="M414.78 97.84L417.65 97.84L416.22 95.34Z" fill="#1673e0"/>
<path d="M416.55 100.22L419.42 100.22L417.99 97.72Z" fill="#1673e0"/>
<path d="M418.32 102.59L421.19 102.59L419.75 100.09Z" fill="#1673e0"/>
<path d="M420.09 104.61L422.96 104.61L421.52 102.11Z" fill="#1673e0"/>
<path d="M421.86 106.04L424.73 106.04L423.29 103.54Z" fill="#1673e0"/>
<path d="M425.39 108.18L428.27 108.18L426.83 105.68Z" fill="#1673e0"/>
<path d="M428.93 112.10L431.81 112.10L430.37 109.60Z" fill="#1673e0"/>
<path d="M432.47 114.59L435.35 114.59L433.91 112.09Z" fill="#1673e0"/>
<path d="M436.01 116.14L438.89 116.14L437.45 113.64Z" fill="#1673e0"/>
<path d="M439.55 116.61L442.42 116.61L440.99 114.11Z" fill="#1673e0"/>
<path d="M443.09 117.21L445.96 117.21L444.53 114.71Z" fill="#1673e0"/>
<path d="M446.63 118.28L449.50 118.28L448.06 115.78Z" fill="#1673e0"/>
<path d="M450.17 120.29L453.04 120.29L451.60 117.79Z" fill="#1673e0"/>
<path d="M453.70 120.65L456.58 120.65L455.14 118.15Z" fill="#1673e0"/>
<path d="M457.24 120.65L460.12 120.65L458.68 118.15Z" fill="#1673e0"/>
<path d="M460.78 120.77L463.66 120.77L462.22 118.27Z" fill="#1673e0"/>
<path d="M464.32 120.89L467.20 120.89L465.76 118.39Z" fill="#1673e0"/>
<path d="M467.86 121.24L470.73 121.24L469.30 118.74Z" fill="#1673e0"/>
<path d="M471.40 121.48L474.27 121.48L472.84 118.98Z" fill="#1673e0"/>
<path d="M474.94 121.84L477.81 121.84L476.37 119.34Z" fill="#1673e0"/>
<polyline points="408.63,72.60 411.65,87.45 414.68,92.80 417.71,100.28 420.73,103.25 423.76,105.27 426.79,107.88 429.82,112.04 432.84,114.06 435.87,115.01 441.92,116.32 447.98,118.10 454.03,119.53 460.08,119.76 466.14,119.17 472.19,119.76 478.25,120.83 484.30,120.36 490.35,120.60 496.41,120.71 502.46,120.95 508.51,121.31 514.57,121.55 520.62,121.78 526.68,122.14" fill="none" stroke="#22c284" stroke-width="0.9"/>
<path d="M407.19 71.47L410.06 71.47L408.63 73.97Z" fill="#00a865"/>
<path d="M410.22 86.33L413.09 86.33L411.65 88.83Z" fill="#00a865"/>
<path d="M413.24 91.67L416.12 91.67L414.68 94.17Z" fill="#00a865"/>
<path d="M416.27 99.16L419.15 99.16L417.71 101.66Z" fill="#00a865"/>
<path d="M419.30 102.13L422.17 102.13L420.73 104.63Z" fill="#00a865"/>
<path d="M422.32 104.14L425.20 104.14L423.76 106.64Z" fill="#00a865"/>
<path d="M425.35 106.76L428.23 106.76L426.79 109.26Z" fill="#00a865"/>
<path d="M428.38 110.92L431.25 110.92L429.82 113.42Z" fill="#00a865"/>
<path d="M431.40 112.94L434.28 112.94L432.84 115.44Z" fill="#00a865"/>
<path d="M434.43 113.89L437.31 113.89L435.87 116.39Z" fill="#00a865"/>
<path d="M440.49 115.19L443.36 115.19L441.92 117.69Z" fill="#00a865"/>
<path d="M446.54 116.98L449.41 116.98L447.98 119.48Z" fill="#00a865"/>
<path d="M452.59 118.40L455.47 118.40L454.03 120.90Z" fill="#00a865"/>
<path d="M458.65 118.64L461.52 118.64L460.08 121.14Z" fill="#00a865"/>
<path d="M464.70 118.04L467.58 118.04L466.14 120.54Z" fill="#00a865"/>
<path d="M470.75 118.64L473.63 118.64L472.19 121.14Z" fill="#00a865"/>
<path d="M476.81 119.71L479.68 119.71L478.25 122.21Z" fill="#00a865"/>
<path d="M482.86 119.23L485.74 119.23L484.30 121.73Z" fill="#00a865"/>
<path d="M488.92 119.47L491.79 119.47L490.35 121.97Z" fill="#00a865"/>
<path d="M494.97 119.59L497.84 119.59L496.41 122.09Z" fill="#00a865"/>
<path d="M501.02 119.83L503.90 119.83L502.46 122.33Z" fill="#00a865"/>
<path d="M507.08 120.18L509.95 120.18L508.51 122.68Z" fill="#00a865"/>
<path d="M513.13 120.42L516.01 120.42L514.57 122.92Z" fill="#00a865"/>
<path d="M519.19 120.66L522.06 120.66L520.62 123.16Z" fill="#00a865"/>
<path d="M525.24 121.01L528.11 121.01L526.68 123.51Z" fill="#00a865"/>
<text x="428.50" y="29.90" font-size="9.0" text-anchor="middle" fill="#222" font-weight="bold" stroke="#222" stroke-width="0.22" letter-spacing="0.05" font-family="DejaVu Sans, Liberation Sans, sans-serif">(c)</text>
<line x1="482" y1="27.6" x2="497.5" y2="27.6" stroke="#555555" stroke-width="0.8"/>
<rect x="488.64" y="26.50" width="2.21" height="2.21" fill="#3a3a3a"/>
<text x="499.70" y="29.75" font-size="6.5" text-anchor="start" fill="#444">15°</text>
<line x1="482" y1="35.9" x2="497.5" y2="35.9" stroke="#ff6b6b" stroke-width="0.8"/>
<circle cx="489.75" cy="35.90" r="1.30" fill="#ff3838"/>
<text x="499.70" y="38.05" font-size="6.5" text-anchor="start" fill="#444">20°</text>
<line x1="482" y1="44.2" x2="497.5" y2="44.2" stroke="#3a94f0" stroke-width="0.8"/>
<path d="M488.25 45.37L491.25 45.37L489.75 42.77Z" fill="#1673e0"/>
<text x="499.70" y="46.35" font-size="6.5" text-anchor="start" fill="#444">25°</text>
<line x1="482" y1="52.4" x2="497.5" y2="52.4" stroke="#22c284" stroke-width="0.8"/>
<path d="M488.25 51.23L491.25 51.23L489.75 53.83Z" fill="#00a865"/>
<text x="499.70" y="54.55" font-size="6.5" text-anchor="start" fill="#444">30°</text>
<text x="471.50" y="153.90" font-size="7.85" text-anchor="middle" fill="#222" font-weight="bold" stroke="#222" stroke-width="0.22">Spatial Dispersioin Width (mm)</text>
<text x="380.80" y="72.60" font-size="7.85" text-anchor="middle" fill="#222" font-weight="bold" stroke="#222" stroke-width="0.22" transform="rotate(-90 380.80 72.60)">Spatial Intensity Modulation Ratio (m)</text>
<rect x="208.20" y="186.20" width="79.50" height="81.20" fill="#fff" stroke="#333" stroke-width="0.9"/>
<polyline points="210.00,266.90 210.18,266.90 210.37,266.90 210.55,266.90 210.74,266.89 210.92,266.89 211.11,266.89 211.29,266.89 211.48,266.88 211.66,266.87 211.84,266.87 212.03,266.86 212.21,266.84 212.40,266.82 212.58,266.80 212.77,266.77 212.95,266.74 213.14,266.70 213.32,266.65 213.51,266.59 213.69,266.52 213.87,266.44 214.06,266.35 214.24,266.24 214.43,266.12 214.61,265.97 214.80,265.80 214.98,265.62 215.17,265.41 215.35,265.19 215.53,264.94 215.72,264.66 215.90,264.30 216.09,264.06 216.27,263.52 216.46,263.16 216.64,262.85 216.83,262.22 217.01,261.92 217.19,261.46 217.38,260.97 217.56,259.79 217.75,259.22 217.93,259.04 218.12,257.99 218.30,256.57 218.49,255.95 218.67,256.02 218.86,254.69 219.04,253.76 219.22,252.50 219.41,250.72 219.59,250.93 219.78,252.65 219.96,248.75 220.15,246.55 220.33,251.30 220.52,248.95 220.70,243.70 220.88,246.41 221.07,244.58 221.25,241.71 221.44,242.02 221.62,236.89 221.81,244.40 221.99,243.26 222.18,238.73 222.36,232.73 222.55,242.78 222.73,233.46 222.91,231.92 223.10,230.14 223.28,235.35 223.47,238.68 223.65,233.30 223.84,235.75 224.02,241.48 224.21,240.32 224.39,230.49 224.57,227.35 224.76,216.93 224.94,237.81 225.13,218.69 225.31,240.22 225.50,219.78 225.68,234.58 225.87,238.20 226.05,212.21 226.23,230.21 226.42,236.10 226.60,220.48 226.79,210.22 226.97,231.96 227.16,235.46 227.34,227.62 227.53,226.94 227.71,239.39 227.90,230.01 228.08,227.26 228.26,225.43 228.45,227.07 228.63,208.72 228.82,230.40 229.00,232.95 229.19,229.64 229.37,234.60 229.56,223.80 229.74,222.80 229.92,226.07 230.11,231.08 230.29,221.91 230.48,211.12 230.66,227.66 230.85,229.92 231.03,231.92 231.22,228.60 231.40,224.16 231.58,241.52 231.77,229.80 231.95,221.29 232.14,213.31 232.32,219.61 232.51,231.17 232.69,199.62 232.88,207.85 233.06,221.17 233.25,236.06 233.43,230.62 233.61,224.95 233.80,221.78 233.98,205.26 234.17,217.46 234.35,222.52 234.54,229.44 234.72,208.45 234.91,195.42 235.09,209.74 235.27,243.45 235.46,227.55 235.64,230.66 235.83,228.13 236.01,222.49 236.20,218.09 236.38,219.30 236.57,226.45 236.75,227.08 236.94,223.13 237.12,219.70 237.30,224.01 237.49,218.77 237.67,225.15 237.86,226.46 238.04,220.11 238.23,229.08 238.41,208.84 238.60,233.23 238.78,221.84 238.96,219.95 239.15,221.50 239.33,216.02 239.52,221.26 239.70,218.42 239.89,211.62 240.07,215.55 240.26,217.34 240.44,206.03 240.62,191.77 240.81,222.23 240.99,214.86 241.18,203.19 241.36,230.47 241.55,211.53 241.73,229.83 241.92,214.67 242.10,217.39 242.29,203.12 242.47,228.12 242.65,200.95 242.84,224.23 243.02,209.74 243.21,214.98 243.39,219.54 243.58,229.78 243.76,208.55 243.95,230.33 244.13,230.31 244.31,208.81 244.50,222.89 244.68,229.76 244.87,188.48 245.05,221.25 245.24,225.00 245.42,224.03 245.61,223.31 245.79,217.88 245.97,198.87 246.16,207.23 246.34,234.95 246.53,218.68 246.71,219.67 246.90,233.03 247.08,233.04 247.27,209.60 247.45,229.56 247.64,208.23 247.82,222.14 248.00,212.51 248.19,201.73 248.37,204.17 248.56,221.02 248.74,224.21 248.93,209.86 249.11,230.68 249.30,227.42 249.48,226.88 249.66,256.10 249.85,237.20 250.03,228.37 250.22,228.53 250.40,229.74 250.59,218.65 250.77,227.23 250.96,224.95 251.14,220.63 251.33,223.56 251.51,226.50 251.69,220.72 251.88,209.50 252.06,229.51 252.25,214.01 252.43,218.52 252.62,235.91 252.80,226.68 252.99,220.70 253.17,216.82 253.35,203.79 253.54,231.99 253.72,219.13 253.91,226.48 254.09,222.24 254.28,213.18 254.46,222.92 254.65,225.65 254.83,238.74 255.01,230.49 255.20,226.48 255.38,227.76 255.57,230.01 255.75,228.47 255.94,213.98 256.12,234.78 256.31,217.32 256.49,227.51 256.68,235.34 256.86,234.57 257.04,224.89 257.23,207.34 257.41,227.97 257.60,217.34 257.78,238.44 257.97,230.10 258.15,235.39 258.34,210.89 258.52,233.98 258.70,223.72 258.89,234.17 259.07,224.46 259.26,232.54 259.44,232.34 259.63,221.65 259.81,225.17 260.00,233.23 260.18,221.35 260.36,193.66 260.55,219.07 260.73,228.44 260.92,219.54 261.10,220.20 261.29,230.37 261.47,214.64 261.66,209.26 261.84,229.17 262.03,224.00 262.21,219.52 262.39,225.10 262.58,212.24 262.76,215.67 262.95,214.40 263.13,206.11 263.32,198.10 263.50,221.44 263.69,218.27 263.87,232.29 264.05,207.52 264.24,225.22 264.42,230.15 264.61,222.81 264.79,218.68 264.98,223.11 265.16,191.10 265.35,207.49 265.53,231.64 265.72,238.28 265.90,228.08 266.08,233.30 266.27,224.41 266.45,221.52 266.64,222.60 266.82,191.25 267.01,223.05 267.19,217.18 267.38,234.90 267.56,228.06 267.74,213.42 267.93,234.34 268.11,214.00 268.30,230.53 268.48,227.25 268.67,220.49 268.85,229.85 269.04,222.98 269.22,220.42 269.40,229.88 269.59,230.10 269.77,199.16 269.96,225.49 270.14,232.65 270.33,228.42 270.51,224.06 270.70,217.22 270.88,233.14 271.07,221.13 271.25,211.80 271.43,232.12 271.62,222.88 271.80,222.52 271.99,226.26 272.17,232.45 272.36,225.51 272.54,235.73 272.73,232.39 272.91,233.92 273.09,234.60 273.28,214.33 273.46,232.36 273.65,231.20 273.83,238.96 274.02,241.87 274.20,240.18 274.39,236.01 274.57,228.51 274.75,235.35 274.94,240.06 275.12,245.16 275.31,245.43 275.49,230.60 275.68,242.06 275.86,243.99 276.05,245.25 276.23,247.71 276.42,245.96 276.60,247.63 276.78,252.88 276.97,250.60 277.15,250.89 277.34,247.81 277.52,253.69 277.71,253.94 277.89,251.13 278.08,254.27 278.26,255.69 278.44,255.97 278.63,257.03 278.81,256.22 279.00,258.16 279.18,258.50 279.37,259.34 279.55,259.92 279.74,260.07 279.92,260.61 280.11,261.16 280.29,261.76 280.47,262.39 280.66,262.86 280.84,263.31 281.03,263.69 281.21,264.06 281.40,264.37 281.58,264.63 281.77,264.93 281.95,265.18 282.13,265.40 282.32,265.62 282.50,265.81 282.69,265.97 282.87,266.11 283.06,266.23 283.24,266.35 283.43,266.44 283.61,266.53 283.79,266.59 283.98,266.65 284.16,266.70 284.35,266.74 284.53,266.77 284.72,266.80 284.90,266.82 285.09,266.84 285.27,266.86 285.46,266.87 285.64,266.87 285.82,266.88 286.01,266.89 286.19,266.89 286.38,266.89 286.56,266.89 286.75,266.90 286.93,266.90 287.12,266.90 287.30,266.90" fill="none" stroke="#0b77c0" stroke-width="0.95" stroke-linejoin="round"/>
<text x="216.80" y="194.70" font-size="8.6" text-anchor="middle" fill="#111" font-weight="bold" stroke="#111" stroke-width="0.22">(g)</text>
<text transform="translate(203.10 190.65) rotate(0) scale(0.97 1)" font-size="8.3" text-anchor="end" fill="#222">1.5</text>
<text transform="translate(203.10 215.95) rotate(0) scale(0.97 1)" font-size="8.3" text-anchor="end" fill="#222">1.0</text>
<text transform="translate(203.10 240.85) rotate(0) scale(0.97 1)" font-size="8.3" text-anchor="end" fill="#222">0.5</text>
<text transform="translate(203.10 266.65) rotate(0) scale(0.97 1)" font-size="8.3" text-anchor="end" fill="#222">0</text>
<rect x="320.70" y="186.20" width="79.80" height="81.20" fill="#fff" stroke="#333" stroke-width="0.9"/>
<polyline points="321.50,266.77 321.86,266.75 322.21,266.71 322.57,266.64 322.93,266.54 323.29,266.39 323.64,266.17 324.00,265.86 324.36,265.44 324.71,264.89 325.07,264.19 325.43,263.32 325.78,262.25 326.14,260.98 326.50,259.51 326.86,257.82 327.21,255.93 327.57,253.84 327.93,251.58 328.28,249.16 328.64,246.61 329.00,243.96 329.36,241.23 329.71,238.46 330.07,235.67 330.43,232.90 330.78,230.16 331.14,227.48 331.50,224.87 331.86,222.36 332.21,219.96 332.57,217.68 332.93,215.53 333.28,213.50 333.64,211.61 334.00,209.85 334.35,208.22 334.71,206.72 335.07,205.34 335.43,204.08 335.78,202.94 336.14,201.90 336.50,202.89 336.85,202.02 337.21,198.24 337.57,202.57 337.93,198.33 338.28,201.43 338.64,195.16 339.00,196.29 339.35,193.90 339.71,196.84 340.07,194.96 340.43,195.92 340.78,196.51 341.14,194.75 341.50,197.10 341.85,195.34 342.21,193.34 342.57,194.38 342.92,195.13 343.28,190.37 343.64,194.15 344.00,195.26 344.35,193.87 344.71,195.06 345.07,194.78 345.42,194.69 345.78,190.37 346.14,193.98 346.50,193.68 346.85,192.77 347.21,190.33 347.57,194.38 347.92,195.10 348.28,189.48 348.64,196.60 348.99,194.62 349.35,192.74 349.71,189.81 350.07,195.67 350.42,198.34 350.78,192.75 351.14,194.89 351.49,194.65 351.85,193.11 352.21,193.54 352.57,193.42 352.92,194.72 353.28,191.61 353.64,191.22 353.99,193.88 354.35,194.76 354.71,192.61 355.07,193.08 355.42,195.83 355.78,194.78 356.14,192.04 356.49,194.12 356.85,194.54 357.21,193.56 357.56,194.00 357.92,193.95 358.28,197.44 358.64,190.77 358.99,193.58 359.35,195.53 359.71,192.17 360.06,193.38 360.42,193.91 360.78,192.04 361.14,189.85 361.49,192.94 361.85,191.07 362.21,190.03 362.56,195.79 362.92,194.89 363.28,192.54 363.64,197.04 363.99,194.43 364.35,191.60 364.71,192.05 365.06,192.89 365.42,197.38 365.78,189.68 366.13,192.94 366.49,192.55 366.85,193.05 367.21,197.05 367.56,196.54 367.92,196.15 368.28,190.47 368.63,195.45 368.99,194.38 369.35,194.40 369.71,192.91 370.06,193.04 370.42,193.46 370.78,196.23 371.13,199.63 371.49,193.65 371.85,193.46 372.21,191.72 372.56,194.14 372.92,195.07 373.28,193.22 373.63,196.79 373.99,195.87 374.35,195.81 374.70,193.48 375.06,190.23 375.42,192.65 375.78,191.99 376.13,193.65 376.49,193.61 376.85,194.97 377.20,194.71 377.56,198.64 377.92,196.49 378.28,196.71 378.63,192.98 378.99,193.40 379.35,192.66 379.70,192.06 380.06,195.56 380.42,193.32 380.77,191.94 381.13,195.68 381.49,194.04 381.85,196.57 382.20,199.46 382.56,196.86 382.92,198.96 383.27,197.89 383.63,199.47 383.99,198.83 384.35,203.66 384.70,197.55 385.06,201.90 385.42,202.94 385.77,204.08 386.13,205.34 386.49,206.72 386.85,208.22 387.20,209.85 387.56,211.61 387.92,213.50 388.27,215.53 388.63,217.68 388.99,219.96 389.34,222.36 389.70,224.87 390.06,227.48 390.42,230.16 390.77,232.90 391.13,235.67 391.49,238.46 391.84,241.23 392.20,243.96 392.56,246.61 392.92,249.16 393.27,251.58 393.63,253.84 393.99,255.93 394.34,257.82 394.70,259.51 395.06,260.98 395.42,262.25 395.77,263.32 396.13,264.19 396.49,264.89 396.84,265.44 397.20,265.86 397.56,266.17 397.91,266.39 398.27,266.54 398.63,266.64 398.99,266.71 399.34,266.75 399.70,266.77" fill="none" stroke="#f9ad25" stroke-width="1.15" stroke-linejoin="round"/>
<text x="325.60" y="194.70" font-size="8.6" text-anchor="middle" fill="#111" font-weight="bold" stroke="#111" stroke-width="0.22">(i)</text>
<text transform="translate(315.90 193.95) rotate(0) scale(0.97 1)" font-size="8.3" text-anchor="end" fill="#222">1.0</text>
<text transform="translate(315.90 231.65) rotate(0) scale(0.97 1)" font-size="8.3" text-anchor="end" fill="#222">0.5</text>
<text transform="translate(315.90 268.95) rotate(0) scale(0.97 1)" font-size="8.3" text-anchor="end" fill="#222">0</text>
<rect x="94.30" y="287.20" width="84.60" height="80.20" fill="#fff" stroke="#333" stroke-width="0.9"/>
<polyline points="178.33,288.80 178.31,288.98 178.29,289.17 178.26,289.35 178.23,289.53 178.20,289.71 178.15,289.90 178.10,290.08 178.04,290.26 177.97,290.45 177.89,290.63 177.80,290.81 177.70,290.99 177.59,291.18 177.45,291.36 177.29,291.54 177.15,291.73 176.95,291.91 176.75,292.09 176.50,292.27 176.29,292.46 176.05,292.64 175.77,292.82 175.47,293.00 175.15,293.19 174.79,293.37 174.36,293.55 173.68,293.74 173.56,293.92 172.95,294.10 172.65,294.28 172.05,294.47 171.41,294.65 170.96,294.83 170.39,295.02 170.09,295.20 168.86,295.38 168.85,295.56 168.11,295.75 167.24,295.93 164.02,296.11 164.48,296.30 166.07,296.48 165.40,296.66 164.42,296.84 163.28,297.03 163.54,297.21 162.95,297.39 163.15,297.58 159.45,297.76 160.97,297.94 162.01,298.12 158.79,298.31 160.40,298.49 153.05,298.67 158.42,298.85 152.33,299.04 153.66,299.22 145.69,299.40 149.78,299.59 156.49,299.77 151.06,299.95 148.27,300.13 150.66,300.32 131.03,300.50 153.37,300.68 148.07,300.87 144.21,301.05 153.70,301.23 128.17,301.41 148.92,301.60 144.02,301.78 139.70,301.96 137.43,302.15 115.05,302.33 142.68,302.51 143.32,302.69 151.88,302.88 129.06,303.06 145.28,303.24 150.23,303.43 137.50,303.61 139.45,303.79 143.55,303.97 134.35,304.16 142.24,304.34 143.60,304.52 122.08,304.71 150.56,304.89 129.08,305.07 147.15,305.25 147.02,305.44 147.70,305.62 135.75,305.80 124.58,305.98 143.42,306.17 158.43,306.35 116.45,306.53 131.94,306.72 144.44,306.90 130.70,307.08 136.35,307.26 138.55,307.45 114.01,307.63 142.98,307.81 127.24,308.00 111.67,308.18 127.36,308.36 126.61,308.54 141.84,308.73 139.28,308.91 137.77,309.09 130.89,309.28 137.24,309.46 115.50,309.64 122.08,309.82 142.84,310.01 114.36,310.19 133.47,310.37 128.46,310.56 119.21,310.74 138.09,310.92 143.74,311.10 117.19,311.29 110.29,311.47 134.34,311.65 121.87,311.83 131.27,312.02 131.34,312.20 145.02,312.38 141.68,312.57 120.28,312.75 140.83,312.93 141.79,313.11 137.09,313.30 120.13,313.48 140.73,313.66 117.58,313.85 126.77,314.03 134.97,314.21 142.67,314.39 142.93,314.58 136.42,314.76 137.33,314.94 133.83,315.13 107.33,315.31 119.79,315.49 117.75,315.67 109.22,315.86 127.43,316.04 122.27,316.22 135.68,316.41 126.95,316.59 144.94,316.77 120.11,316.95 133.07,317.14 136.01,317.32 156.74,317.50 136.77,317.68 142.85,317.87 141.19,318.05 142.10,318.23 142.23,318.42 131.67,318.60 149.13,318.78 147.31,318.96 133.23,319.15 144.43,319.33 139.93,319.51 107.00,319.70 131.70,319.88 158.80,320.06 131.51,320.24 137.52,320.43 117.43,320.61 123.72,320.79 109.99,320.98 113.08,321.16 137.21,321.34 137.28,321.52 139.31,321.71 128.50,321.89 140.00,322.07 139.96,322.26 143.97,322.44 139.03,322.62 112.73,322.80 119.08,322.99 142.25,323.17 142.61,323.35 141.87,323.54 141.35,323.72 131.19,323.90 115.18,324.08 135.46,324.27 135.42,324.45 120.83,324.63 126.47,324.81 149.12,325.00 143.28,325.18 122.21,325.36 142.96,325.55 134.42,325.73 127.00,325.91 133.22,326.09 141.18,326.28 136.03,326.46 125.40,326.64 135.48,326.83 130.97,327.01 131.76,327.19 145.63,327.37 140.99,327.56 137.07,327.74 138.14,327.92 115.55,328.11 124.87,328.29 143.83,328.47 141.42,328.65 157.51,328.84 123.07,329.02 95.91,329.20 113.02,329.39 138.87,329.57 125.42,329.75 117.51,329.93 142.51,330.12 130.86,330.30 122.25,330.48 142.95,330.66 120.53,330.85 114.19,331.03 120.06,331.21 128.31,331.40 137.96,331.58 123.11,331.76 133.75,331.94 132.67,332.13 132.53,332.31 127.74,332.49 127.40,332.68 102.68,332.86 128.04,333.04 119.10,333.22 137.33,333.41 133.26,333.59 138.10,333.77 135.61,333.96 145.37,334.14 122.93,334.32 120.33,334.50 144.30,334.69 133.39,334.87 132.94,335.05 131.51,335.24 141.11,335.42 146.29,335.60 150.41,335.78 132.11,335.97 129.37,336.15 95.92,336.33 123.94,336.52 129.89,336.70 133.10,336.88 136.93,337.06 135.10,337.25 134.63,337.43 142.63,337.61 133.94,337.79 116.82,337.98 152.02,338.16 138.35,338.34 131.08,338.53 145.52,338.71 132.31,338.89 146.32,339.07 102.76,339.26 124.88,339.44 134.36,339.62 127.60,339.81 134.20,339.99 140.44,340.17 125.00,340.35 127.33,340.54 139.37,340.72 140.12,340.90 105.49,341.09 122.59,341.27 127.40,341.45 128.76,341.63 141.61,341.82 138.04,342.00 127.61,342.18 143.43,342.37 134.65,342.55 145.54,342.73 115.77,342.91 126.31,343.10 132.02,343.28 141.43,343.46 126.75,343.64 135.54,343.83 135.49,344.01 142.27,344.19 139.47,344.38 137.10,344.56 125.76,344.74 138.38,344.92 141.12,345.11 142.53,345.29 142.28,345.47 115.49,345.66 137.40,345.84 140.82,346.02 144.88,346.20 134.49,346.39 140.13,346.57 145.44,346.75 137.92,346.94 132.03,347.12 140.83,347.30 133.72,347.48 152.40,347.67 135.06,347.85 139.53,348.03 145.13,348.22 145.78,348.40 138.34,348.58 148.69,348.76 140.81,348.95 133.86,349.13 131.71,349.31 151.79,349.49 162.52,349.68 129.39,349.86 127.05,350.04 125.52,350.23 148.38,350.41 140.70,350.59 137.86,350.77 141.62,350.96 149.42,351.14 145.50,351.32 124.14,351.51 130.18,351.69 148.25,351.87 136.00,352.05 132.91,352.24 141.88,352.42 154.84,352.60 131.02,352.79 152.96,352.97 146.69,353.15 149.79,353.33 145.08,353.52 139.21,353.70 150.11,353.88 152.72,354.07 147.25,354.25 152.85,354.43 155.24,354.61 156.16,354.80 145.44,354.98 157.32,355.16 158.45,355.35 155.94,355.53 149.54,355.71 157.23,355.89 160.49,356.08 161.57,356.26 158.41,356.44 158.45,356.62 161.26,356.81 160.11,356.99 163.11,357.17 163.03,357.36 164.28,357.54 166.25,357.72 165.05,357.90 166.39,358.09 166.37,358.27 169.04,358.45 166.57,358.64 169.21,358.82 169.70,359.00 170.36,359.18 171.40,359.37 171.76,359.55 171.41,359.73 172.46,359.92 173.30,360.10 172.97,360.28 173.93,360.46 173.99,360.65 174.90,360.83 175.05,361.01 175.37,361.20 175.68,361.38 175.95,361.56 176.30,361.74 176.52,361.93 176.76,362.11 176.95,362.29 177.13,362.47 177.31,362.66 177.45,362.84 177.59,363.02 177.70,363.21 177.80,363.39 177.89,363.57 177.97,363.75 178.04,363.94 178.10,364.12 178.15,364.30 178.20,364.49 178.23,364.67 178.26,364.85 178.29,365.03 178.31,365.22 178.33,365.40" fill="none" stroke="#0b77c0" stroke-width="0.95" stroke-linejoin="round"/>
<text x="101.50" y="297.60" font-size="8.6" text-anchor="middle" fill="#111" font-weight="bold" stroke="#111" stroke-width="0.22">(f)</text>
<text transform="translate(100.45 282.20) rotate(-90) scale(0.97 1)" font-size="8.3" text-anchor="start" fill="#222">1.5</text>
<text transform="translate(126.45 282.20) rotate(-90) scale(0.97 1)" font-size="8.3" text-anchor="start" fill="#222">1.0</text>
<text transform="translate(151.85 282.20) rotate(-90) scale(0.97 1)" font-size="8.3" text-anchor="start" fill="#222">0.5</text>
<text transform="translate(177.35 282.20) rotate(-90) scale(0.97 1)" font-size="8.3" text-anchor="start" fill="#222">0</text>
<rect x="414.40" y="284.70" width="84.80" height="79.30" fill="#fff" stroke="#333" stroke-width="0.9"/>
<polyline points="416.06,285.30 416.49,285.79 417.05,286.28 417.77,286.77 418.65,287.26 419.72,287.76 420.99,288.25 422.48,288.74 424.18,289.23 426.09,289.72 428.22,290.21 430.53,290.70 433.02,291.19 435.67,291.69 438.44,292.18 441.31,292.67 444.26,293.16 447.24,293.65 450.22,294.14 453.19,294.63 456.12,295.12 458.97,295.62 461.74,296.11 464.39,296.60 466.93,297.09 469.33,297.58 471.60,298.07 473.71,298.56 475.68,299.05 477.51,299.54 479.18,300.04 480.71,300.53 482.11,301.02 483.37,301.51 484.51,302.00 485.53,302.49 486.45,302.98 487.26,303.47 487.95,303.97 488.47,304.46 488.84,304.95 489.08,305.44 489.22,305.93 489.29,306.42 489.32,306.91 489.31,307.40 489.32,307.89 489.35,308.39 489.43,308.88 489.58,309.37 489.79,309.86 490.04,310.35 490.29,310.84 490.55,311.33 490.77,311.82 490.95,312.32 491.06,312.81 491.10,313.30 491.22,313.79 491.37,314.28 491.53,314.77 491.66,315.26 491.72,315.75 491.56,316.25 491.09,316.74 490.49,317.23 489.92,317.72 489.53,318.21 489.42,318.70 488.99,319.19 488.31,319.68 487.60,320.17 487.09,320.67 486.97,321.16 487.01,321.65 487.09,322.14 487.20,322.63 487.32,323.12 487.43,323.61 487.53,324.10 487.59,324.60 487.61,325.09 487.62,325.58 487.65,326.07 487.69,326.56 487.74,327.05 487.80,327.54 487.86,328.03 487.92,328.53 487.97,329.02 488.02,329.51 488.06,330.00 488.09,330.49 488.09,330.98 488.12,331.47 488.18,331.96 488.28,332.45 488.40,332.95 488.53,333.44 488.66,333.93 488.78,334.42 488.86,334.91 488.91,335.40 488.91,335.89 488.90,336.38 489.01,336.88 489.19,337.37 489.41,337.86 489.62,338.35 489.79,338.84 489.88,339.33 489.84,339.82 489.65,340.31 489.50,340.81 489.40,341.30 489.27,341.79 489.03,342.28 488.58,342.77 488.00,343.26 487.33,343.75 486.58,344.24 485.73,344.73 484.77,345.23 483.70,345.72 482.51,346.21 481.20,346.70 479.75,347.19 478.16,347.68 476.43,348.17 474.55,348.66 472.53,349.16 470.35,349.65 468.04,350.14 465.59,350.63 463.01,351.12 460.31,351.61 457.52,352.10 454.64,352.59 451.71,353.08 448.74,353.58 445.77,354.07 442.82,354.56 439.92,355.05 437.10,355.54 434.39,356.03 431.82,356.52 429.42,357.01 427.19,357.51 425.17,358.00 423.36,358.49 421.76,358.98 420.38,359.47 419.20,359.96 418.22,360.45 417.42,360.94 416.78,361.44 416.28,361.93 415.89,362.42 415.61,362.91 415.41,363.40" fill="none" stroke="#f9ad25" stroke-width="1.15" stroke-linejoin="round"/>
<text x="487.00" y="295.00" font-size="8.6" text-anchor="middle" fill="#111" font-weight="bold" stroke="#111" stroke-width="0.22">(h)</text>
<text transform="translate(417.25 283.00) rotate(90) scale(0.97 1)" font-size="8.3" text-anchor="end" fill="#222">0</text>
<text transform="translate(455.25 283.00) rotate(90) scale(0.97 1)" font-size="8.3" text-anchor="end" fill="#222">0.5</text>
<text transform="translate(492.55 283.00) rotate(90) scale(0.97 1)" font-size="8.3" text-anchor="end" fill="#222">1.0</text>
<defs>
<filter id="hmd" x="0" y="0" width="1" height="1" filterUnits="objectBoundingBox" color-interpolation-filters="sRGB">
<feGaussianBlur in="SourceGraphic" stdDeviation="3.7 4.1" result="b"/>
<feTurbulence type="fractalNoise" baseFrequency="0.5" numOctaves="2" seed="3" result="t"/>
<feColorMatrix in="t" type="matrix" values="1 0 0 0 0  1 0 0 0 0  1 0 0 0 0  0 0 0 0 1" result="n"/>
<feComposite in="b" in2="n" operator="arithmetic" k1="0.22" k2="0.89" k3="0" k4="0" result="m"/>
<feComponentTransfer in="m"><feFuncR type="table" tableValues="0.242 0.250 0.258 0.265 0.271 0.275 0.278 0.280 0.281 0.281 0.280 0.276 0.270 0.260 0.244 0.221 0.196 0.183 0.179 0.176 0.169 0.154 0.146 0.138 0.125 0.111 0.095 0.069 0.030 0.004 0.007 0.043 0.096 0.141 0.172 0.194 0.216 0.247 0.291 0.341 0.391 0.446 0.504 0.562 0.617 0.672 0.724 0.774 0.820 0.863 0.903 0.939 0.973 0.996 0.997 0.995 0.989 0.979 0.968 0.961 0.960 0.963 0.969 0.977"/><feFuncG type="table" tableValues="0.150 0.165 0.182 0.198 0.215 0.234 0.256 0.278 0.301 0.323 0.345 0.367 0.389 0.412 0.436 0.460 0.485 0.507 0.529 0.550 0.570 0.590 0.609 0.628 0.646 0.663 0.680 0.695 0.708 0.720 0.731 0.741 0.750 0.758 0.767 0.776 0.784 0.792 0.797 0.801 0.803 0.802 0.799 0.794 0.788 0.779 0.770 0.760 0.750 0.741 0.733 0.729 0.730 0.743 0.766 0.789 0.814 0.839 0.864 0.889 0.913 0.937 0.961 0.984"/><feFuncB type="table" tableValues="0.660 0.708 0.751 0.795 0.836 0.871 0.899 0.922 0.941 0.958 0.972 0.983 0.991 0.995 0.999 0.997 0.989 0.980 0.968 0.952 0.936 0.922 0.908 0.897 0.888 0.876 0.860 0.839 0.816 0.792 0.766 0.739 0.712 0.684 0.655 0.625 0.592 0.557 0.519 0.479 0.435 0.391 0.348 0.304 0.261 0.223 0.191 0.152 0.130 0.124 0.124 0.131 0.132 0.130 0.121 0.112 0.104 0.097 0.090 0.085 0.142 0.127 0.106 0.081"/></feComponentTransfer>
</filter>
<filter id="hme" x="0" y="0" width="1" height="1" filterUnits="objectBoundingBox" color-interpolation-filters="sRGB">
<feGaussianBlur in="SourceGraphic" stdDeviation="3.5 4.3" result="b"/>
<feTurbulence type="fractalNoise" baseFrequency="0.55 0.03" numOctaves="2" seed="8" result="t"/>
<feColorMatrix in="t" type="matrix" values="1 0 0 0 0  1 0 0 0 0  1 0 0 0 0  0 0 0 0 1" result="n"/>
<feComposite in="b" in2="n" operator="arithmetic" k1="0.12" k2="0.94" k3="0" k4="0" result="m"/>
<feComponentTransfer in="m"><feFuncR type="table" tableValues="0.242 0.250 0.258 0.265 0.271 0.275 0.278 0.280 0.281 0.281 0.280 0.276 0.270 0.260 0.244 0.221 0.196 0.183 0.179 0.176 0.169 0.154 0.146 0.138 0.125 0.111 0.095 0.069 0.030 0.004 0.007 0.043 0.096 0.141 0.172 0.194 0.216 0.247 0.291 0.341 0.391 0.446 0.504 0.562 0.617 0.672 0.724 0.774 0.820 0.863 0.903 0.939 0.973 0.996 0.997 0.995 0.989 0.979 0.968 0.961 0.960 0.963 0.969 0.977"/><feFuncG type="table" tableValues="0.150 0.165 0.182 0.198 0.215 0.234 0.256 0.278 0.301 0.323 0.345 0.367 0.389 0.412 0.436 0.460 0.485 0.507 0.529 0.550 0.570 0.590 0.609 0.628 0.646 0.663 0.680 0.695 0.708 0.720 0.731 0.741 0.750 0.758 0.767 0.776 0.784 0.792 0.797 0.801 0.803 0.802 0.799 0.794 0.788 0.779 0.770 0.760 0.750 0.741 0.733 0.729 0.730 0.743 0.766 0.789 0.814 0.839 0.864 0.889 0.913 0.937 0.961 0.984"/><feFuncB type="table" tableValues="0.660 0.708 0.751 0.795 0.836 0.871 0.899 0.922 0.941 0.958 0.972 0.983 0.991 0.995 0.999 0.997 0.989 0.980 0.968 0.952 0.936 0.922 0.908 0.897 0.888 0.876 0.860 0.839 0.816 0.792 0.766 0.739 0.712 0.684 0.655 0.625 0.592 0.557 0.519 0.479 0.435 0.391 0.348 0.304 0.261 0.223 0.191 0.152 0.130 0.124 0.124 0.131 0.132 0.130 0.121 0.112 0.104 0.097 0.090 0.085 0.142 0.127 0.106 0.081"/></feComponentTransfer>
</filter>
</defs>
<svg x="207.0" y="281.8" width="77.80" height="85.40" viewBox="207.0 281.8 77.80 85.40" overflow="hidden">
<g filter="url(#hmd)"><rect x="177.0" y="251.8" width="137.80" height="145.40" fill="#000"/>
<rect x="214.40" y="290.70" width="65.20" height="68.10" fill="rgb(123,123,123)"/></g>
</svg>
<svg x="322.6" y="278.2" width="77.80" height="91.80" viewBox="322.6 278.2 77.80 91.80" overflow="hidden">
<g filter="url(#hme)"><rect x="292.6" y="248.2" width="137.80" height="151.80" fill="#000"/>
<rect x="331.10" y="291.90" width="62.10" height="64.30" fill="rgb(226,226,226)"/></g>
</svg>
<path d="M204.3 277.6L204.3 369.9L287.6 369.9" fill="none" stroke="#222" stroke-width="0.9"/>
<path d="M245.9 369.9v-1.2M287.6 369.9v-1.2M204.3 277.6h1.2M204.3 323.75h1.2" fill="none" stroke="#222" stroke-width="0.6"/>
<path d="M319.6 277.6L319.6 369.9L403.2 369.9" fill="none" stroke="#222" stroke-width="0.9"/>
<path d="M361.4 369.9v-1.2M403.2 369.9v-1.2M319.6 277.6h1.2M319.6 323.75h1.2" fill="none" stroke="#222" stroke-width="0.6"/>
<text x="202.20" y="281.60" font-size="6.3" text-anchor="end" fill="#3a3a3a">200</text>
<text x="317.50" y="281.60" font-size="6.3" text-anchor="end" fill="#3a3a3a">200</text>
<text x="202.20" y="326.30" font-size="6.3" text-anchor="end" fill="#3a3a3a">0</text>
<text x="317.50" y="326.30" font-size="6.3" text-anchor="end" fill="#3a3a3a">0</text>
<text x="202.20" y="372.70" font-size="6.3" text-anchor="end" fill="#3a3a3a">-200</text>
<text x="317.50" y="372.70" font-size="6.3" text-anchor="end" fill="#3a3a3a">-200</text>
<text x="203.30" y="378.70" font-size="6.3" text-anchor="middle" fill="#3a3a3a">-200</text>
<text x="245.60" y="378.70" font-size="6.3" text-anchor="middle" fill="#3a3a3a">0</text>
<text x="287.60" y="378.70" font-size="6.3" text-anchor="middle" fill="#3a3a3a">200</text>
<text x="318.60" y="378.70" font-size="6.3" text-anchor="middle" fill="#3a3a3a">-200</text>
<text x="361.20" y="378.70" font-size="6.3" text-anchor="middle" fill="#3a3a3a">0</text>
<text x="403.20" y="378.70" font-size="6.3" text-anchor="middle" fill="#3a3a3a">200</text>
<text x="246.10" y="387.60" font-size="6.6" text-anchor="middle" fill="#383838">y(mm)</text>
<text x="361.60" y="387.60" font-size="6.6" text-anchor="middle" fill="#383838">y(mm)</text>
<text x="187.00" y="323.40" font-size="6.6" text-anchor="middle" fill="#383838" transform="rotate(-90 187.00 323.40)">x(mm)</text>
<text x="302.30" y="323.40" font-size="6.6" text-anchor="middle" fill="#383838" transform="rotate(-90 302.30 323.40)">x(mm)</text>
<text x="216.50" y="294.60" font-size="8.8" text-anchor="middle" fill="#fff" font-weight="bold" stroke="#fff" stroke-width="0.22">(d)</text>
<text x="332.80" y="291.90" font-size="8.8" text-anchor="middle" fill="#fff" font-weight="bold" stroke="#fff" stroke-width="0.22">(e)</text>
</svg>
</body></html>
